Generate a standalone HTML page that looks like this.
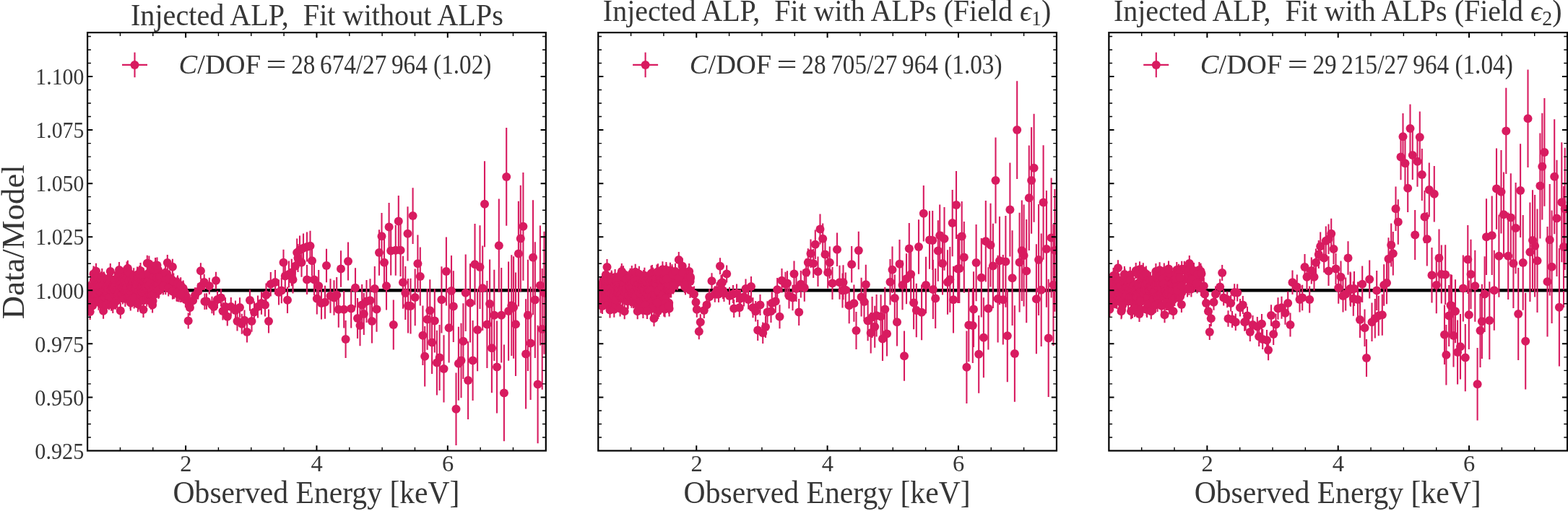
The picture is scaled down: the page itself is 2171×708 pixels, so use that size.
<!DOCTYPE html><html><head><meta charset="utf-8"><title>Data/Model</title><style>html,body{margin:0;padding:0;background:#fff;overflow:hidden}svg{display:block}</style></head><body>
<svg width="2171" height="708" viewBox="0 0 2171 708">
<rect width="2171" height="708" fill="#fff"/>
<defs>
<clipPath id="c0"><rect x="121.10" y="45.10" width="634.70" height="579.40"/></clipPath>
<clipPath id="c1"><rect x="828.25" y="45.10" width="634.70" height="579.40"/></clipPath>
<clipPath id="c2"><rect x="1535.35" y="45.10" width="634.70" height="579.40"/></clipPath>
</defs>
<g clip-path="url(#c0)">
<line x1="121.1" x2="755.8" y1="402.3" y2="402.3" stroke="#000" stroke-width="4.4"/>
<path d="M121.6 403.0V425.0M122.0 407.0V429.0M122.5 399.3V421.3M122.9 391.0V413.0M123.4 396.9V418.9M123.8 389.6V411.6M124.2 403.8V425.8M124.7 421.1V443.1M125.1 396.4V418.4M125.5 394.6V416.6M126.0 409.6V431.6M126.4 407.8V429.8M126.9 404.4V426.4M127.3 390.4V412.4M127.7 402.6V424.6M128.2 412.4V434.4M128.6 384.9V406.9M129.1 396.8V418.8M129.5 368.5V390.5M129.9 376.7V398.7M130.4 369.2V391.2M130.8 390.9V412.9M131.3 376.9V398.9M131.7 397.6V419.6M132.1 396.0V418.0M132.6 391.3V413.3M133.0 364.8V386.8M133.4 386.5V408.5M133.9 393.1V415.1M134.3 395.2V417.2M134.8 373.0V395.0M135.2 387.1V409.1M135.6 380.3V402.3M136.1 382.6V404.6M136.5 407.8V429.8M137.0 382.5V404.5M137.4 392.9V414.9M137.8 405.3V427.3M138.3 385.4V407.4M138.7 391.7V413.7M139.2 394.7V416.7M139.6 394.0V416.0M140.0 376.6V398.6M140.5 394.1V416.1M140.9 411.4V433.4M141.3 372.1V394.1M141.8 404.5V426.5M142.2 394.5V416.5M142.7 384.2V406.2M143.1 419.8V441.8M143.5 403.0V425.0M144.0 376.5V398.5M144.4 393.7V415.7M144.9 400.4V422.4M145.3 390.0V412.0M145.7 401.8V423.8M146.2 391.6V413.6M146.6 401.5V423.5M147.1 411.8V433.8M147.5 383.2V405.2M147.9 395.1V417.1M148.4 386.0V408.0M148.8 393.9V415.9M149.2 376.2V398.2M149.7 384.3V406.3M150.1 389.4V411.4M150.6 404.2V426.2M151.0 407.5V429.5M151.4 374.1V396.1M151.9 381.2V403.2M152.3 400.6V422.6M152.8 364.9V386.9M153.2 385.5V407.5M153.6 390.4V412.4M154.1 408.7V430.7M154.5 401.0V423.0M155.0 387.2V409.2M155.4 386.6V408.6M155.8 388.1V410.1M156.3 412.1V434.1M156.7 385.7V407.7M157.1 387.3V409.3M157.6 396.1V418.1M158.0 389.7V411.7M158.5 388.6V410.6M158.9 376.2V398.2M159.3 391.0V413.0M159.8 385.1V407.1M160.2 406.8V428.8M160.7 399.9V421.9M161.1 390.7V412.7M161.5 400.0V422.0M162.0 386.3V408.3M162.4 405.1V427.1M162.9 390.8V412.8M163.3 398.7V420.7M163.7 373.3V395.3M164.2 395.4V417.4M164.6 367.9V389.9M165.0 363.1V385.1M165.5 386.5V408.5M165.9 378.4V400.4M166.4 392.7V414.7M166.8 419.4V441.4M167.2 379.2V401.2M167.7 381.9V403.9M168.1 393.1V415.1M168.6 396.9V418.9M169.0 387.8V409.8M169.4 387.4V409.4M169.9 399.6V421.6M170.3 397.1V419.1M170.8 376.1V398.1M171.2 388.9V410.9M171.6 390.4V412.4M172.1 375.7V397.7M172.5 393.4V415.4M172.9 378.2V400.2M173.4 402.9V424.9M173.8 392.3V414.3M174.3 390.9V412.9M174.7 381.7V403.7M175.1 388.0V410.0M175.6 362.6V384.6M176.0 374.2V396.2M176.5 394.4V416.4M176.9 360.7V382.7M177.3 400.8V422.8M177.8 365.8V387.8M178.2 399.5V421.5M178.7 377.8V399.8M179.1 399.7V421.7M179.5 390.9V412.9M180.0 368.4V390.4M180.4 405.9V427.9M180.8 408.5V430.5M181.3 388.1V410.1M181.7 385.2V407.2M182.2 386.7V408.7M182.6 375.7V397.7M183.0 403.6V425.6M183.5 381.4V403.4M183.9 388.0V410.0M184.4 378.0V400.0M184.8 380.2V402.2M185.2 371.3V393.3M185.7 405.5V427.5M186.1 386.4V408.4M186.6 401.5V423.5M187.0 388.6V410.6M187.4 379.0V401.0M187.9 383.9V405.9M188.3 380.7V402.7M188.7 388.3V410.3M189.2 383.1V405.1M189.6 384.1V406.1M190.1 369.5V391.5M190.5 377.2V399.2M190.9 410.3V432.3M191.4 378.9V400.9M191.8 373.7V395.7M192.3 392.4V414.4M192.7 406.8V428.8M193.1 368.2V390.2M193.6 384.9V406.9M194.0 379.2V401.2M194.5 363.9V385.9M194.9 397.5V419.5M195.3 387.3V409.3M195.8 388.5V410.5M196.2 377.3V399.3M196.6 393.6V415.6M197.1 380.1V402.1M197.5 385.4V407.4M198.0 372.4V394.4M198.4 370.9V392.9M198.8 405.3V427.3M199.3 380.3V402.3M199.7 391.1V413.1M200.2 386.6V408.6M200.6 381.1V403.1M201.0 380.1V402.1M201.5 395.5V417.5M201.9 382.8V404.8M202.4 384.8V406.8M202.8 387.1V409.1M203.2 402.7V424.7M203.7 395.9V417.9M204.1 391.9V413.9M204.5 379.0V401.0M205.0 368.0V390.0M205.4 399.4V421.4M205.9 399.6V421.6M206.3 384.6V406.6M206.7 393.8V415.8M207.2 396.9V418.9M207.6 397.6V419.6M208.1 398.7V420.7M208.5 380.1V402.1M208.9 406.7V428.7M209.4 369.3V391.3M209.8 397.8V419.8M210.3 392.8V414.8M210.7 397.8V419.8M211.1 411.4V433.4M211.6 406.0V428.0M212.0 370.4V392.4M212.4 363.1V385.1M212.9 396.8V418.8M213.3 372.1V394.1M213.8 385.6V407.6M214.2 397.0V419.0M214.6 363.5V385.5M215.1 357.1V379.1M215.5 389.1V411.1M216.0 386.1V408.1M216.4 382.2V404.2M216.8 385.9V407.9M217.3 373.8V395.8M217.7 364.9V386.9M218.2 383.0V405.0M218.6 372.1V394.1M219.0 363.0V385.0M219.5 392.0V414.0M219.9 384.3V406.3M220.3 390.6V412.6M220.8 371.7V393.7M221.2 376.1V398.1M221.7 371.5V393.5M222.1 372.9V394.9M253.4 390.0V412.0M223.9 380.2V402.2M230.3 382.3V404.3M255.1 394.5V416.5M231.6 381.0V403.0M245.3 383.5V405.5M235.9 377.6V399.6M245.5 396.0V418.0M235.8 382.0V404.0M241.3 382.8V404.8M231.4 378.4V400.4M238.6 378.5V400.5M248.6 393.6V415.6M233.2 374.7V396.7M248.9 386.5V408.5M227.5 371.8V393.8M225.8 386.5V408.5M232.2 378.4V400.4M251.3 395.9V417.9M229.4 379.1V401.1M253.1 393.1V415.1M247.2 384.7V406.7M247.7 396.4V418.4M251.1 396.6V418.6M235.6 376.1V398.1M240.6 392.0V414.0M229.5 375.9V397.9M241.2 392.2V414.2M253.5 389.5V411.5M229.3 386.3V408.3M244.9 393.8V415.8M256.9 404.0V426.0M203.8 353.8V375.8M217.5 356.6V378.6M198.5 418.0V440.0M206.4 354.5V376.5M231.8 353.1V375.1M238.9 358.8V380.8M229.0 367.0V389.0M234.7 374.3V396.3M240.3 378.5V400.5M246.0 381.4V403.4M250.2 384.2V406.2M253.7 388.4V410.4M255.8 394.0V416.0M258.0 399.7V421.7M260.8 406.8V428.8M262.9 415.3V437.3M260.7 433.6V455.6M226.2 385.6V407.6M233.2 388.4V410.4M238.9 392.7V414.7M244.5 395.5V417.5M250.2 397.0V419.0M267.1 405.4V427.4M270.0 398.3V420.3M274.2 392.7V414.7M278.4 385.6V407.6M282.7 379.8V402.2M283.4 406.6V429.0M277.9 364.2V386.2M289.8 384.7V407.8M299.0 376.8V400.7M286.0 406.2V428.8M293.5 410.8V434.2M296.0 413.2V436.8M301.0 402.9V427.1M306.0 400.2V424.8M308.5 418.5V443.5M314.8 425.9V451.6M312.0 412.3V437.7M319.8 411.9V438.1M326.0 416.5V443.5M332.0 412.2V439.8M328.5 431.4V458.6M334.8 434.8V462.7M342.0 445.6V474.4M338.5 429.5V458.0M348.5 430.2V459.8M352.0 417.4V447.6M346.0 401.3V430.7M357.0 409.6V440.4M362.0 404.3V435.7M367.0 406.4V438.6M368.5 392.6V424.9M372.0 428.6V461.4M374.8 377.1V410.4M381.0 373.9V408.1M386.0 387.6V422.4M389.8 384.8V420.2M392.5 345.8V381.7M394.8 364.4V400.6M398.0 397.4V434.1M400.0 361.5V398.5M403.8 358.7V396.3M405.5 368.5V406.5M408.8 349.5V388.0M412.5 338.0V377.0M411.2 330.6V369.4M415.0 326.5V366.0M420.0 323.6V363.9M425.0 321.4V362.6M429.5 319.7V361.8M417.5 343.8V383.7M432.0 340.0V382.5M425.0 366.9V408.1M435.0 366.0V409.0M441.2 374.1V418.4M438.8 391.9V435.6M445.0 397.5V442.5M450.0 395.8V441.7M452.0 344.8V391.2M457.5 386.3V433.7M462.5 388.3V436.7M466.2 384.1V433.4M472.0 347.2V397.8M468.8 403.8V453.7M476.2 403.0V454.5M478.6 444.0V496.0M482.0 335.6V388.4M486.2 400.6V454.4M492.0 371.2V426.3M495.0 413.1V468.9M498.5 422.7V479.3M503.8 406.0V464.0M501.2 393.9V451.1M507.5 388.1V446.9M512.5 386.2V446.3M515.0 414.6V475.4M518.8 369.1V430.9M521.5 397.2V459.8M525.0 318.3V381.7M528.5 295.1V359.5M532.0 331.0V396.5M535.0 363.1V429.4M538.6 281.0V348.2M541.2 313.5V381.5M547.8 311.8V381.8M554.6 310.7V382.9M544.8 415.4V484.6M551.8 270.9V342.1M558.0 354.7V427.8M561.3 368.9V443.1M564.5 286.2V361.4M565.0 386.0V461.5M571.6 260.3V337.9M568.5 385.8V462.4M574.7 372.6V451.2M578.4 325.4V405.2M581.8 342.6V423.6M585.4 423.5V505.9M588.2 452.1V535.5M591.6 400.1V484.7M595.3 387.3V473.3M598.1 431.1V518.1M601.8 400.2V488.6M604.9 457.8V547.4M608.6 449.9V540.9M611.4 369.2V461.4M614.5 464.2V557.6M617.9 328.6V423.4M621.6 406.2V502.4M625.0 354.1V451.7M627.8 375.2V474.0M631.5 516.5V616.9M634.9 452.7V554.7M638.5 447.7V551.3M641.4 420.3V525.1M644.7 352.5V458.9M648.1 473.1V580.9M651.0 365.2V474.4M654.6 443.9V554.9M657.5 310.0V422.4M664.5 312.2V428.0M661.1 400.0V514.2M668.2 340.4V458.0M671.0 223.3V342.3M674.4 389.1V509.9M678.1 359.6V482.4M680.9 420.1V544.3M684.3 373.7V499.9M688.0 444.4V572.6M690.8 275.5V405.1M694.2 371.0V502.6M697.9 477.5V611.3M701.2 177.1V312.7M704.1 362.4V499.8M708.3 353.3V493.1M711.1 355.2V496.8M714.0 377.5V520.9M717.9 278.7V424.5M720.8 256.7V404.3M724.4 238.9V388.7M728.1 414.2V566.6M730.9 359.7V513.9M734.6 397.3V553.9M738.0 277.3V436.3M740.8 335.2V496.0M744.6 450.7V614.3M747.9 312.6V478.4M750.7 372.0V539.8M753.5 320.7V490.7" stroke="#D81B60" stroke-width="2.1" fill="none"/>
<g fill="#D81B60"><circle cx="121.6" cy="414.0" r="6"/><circle cx="122.0" cy="418.0" r="6"/><circle cx="122.5" cy="410.3" r="6"/><circle cx="122.9" cy="402.0" r="6"/><circle cx="123.4" cy="407.9" r="6"/><circle cx="123.8" cy="400.6" r="6"/><circle cx="124.2" cy="414.8" r="6"/><circle cx="124.7" cy="432.1" r="6"/><circle cx="125.1" cy="407.4" r="6"/><circle cx="125.5" cy="405.6" r="6"/><circle cx="126.0" cy="420.6" r="6"/><circle cx="126.4" cy="418.8" r="6"/><circle cx="126.9" cy="415.4" r="6"/><circle cx="127.3" cy="401.4" r="6"/><circle cx="127.7" cy="413.6" r="6"/><circle cx="128.2" cy="423.4" r="6"/><circle cx="128.6" cy="395.9" r="6"/><circle cx="129.1" cy="407.8" r="6"/><circle cx="129.5" cy="379.5" r="6"/><circle cx="129.9" cy="387.7" r="6"/><circle cx="130.4" cy="380.2" r="6"/><circle cx="130.8" cy="401.9" r="6"/><circle cx="131.3" cy="387.9" r="6"/><circle cx="131.7" cy="408.6" r="6"/><circle cx="132.1" cy="407.0" r="6"/><circle cx="132.6" cy="402.3" r="6"/><circle cx="133.0" cy="375.8" r="6"/><circle cx="133.4" cy="397.5" r="6"/><circle cx="133.9" cy="404.1" r="6"/><circle cx="134.3" cy="406.2" r="6"/><circle cx="134.8" cy="384.0" r="6"/><circle cx="135.2" cy="398.1" r="6"/><circle cx="135.6" cy="391.3" r="6"/><circle cx="136.1" cy="393.6" r="6"/><circle cx="136.5" cy="418.8" r="6"/><circle cx="137.0" cy="393.5" r="6"/><circle cx="137.4" cy="403.9" r="6"/><circle cx="137.8" cy="416.3" r="6"/><circle cx="138.3" cy="396.4" r="6"/><circle cx="138.7" cy="402.7" r="6"/><circle cx="139.2" cy="405.7" r="6"/><circle cx="139.6" cy="405.0" r="6"/><circle cx="140.0" cy="387.6" r="6"/><circle cx="140.5" cy="405.1" r="6"/><circle cx="140.9" cy="422.4" r="6"/><circle cx="141.3" cy="383.1" r="6"/><circle cx="141.8" cy="415.5" r="6"/><circle cx="142.2" cy="405.5" r="6"/><circle cx="142.7" cy="395.2" r="6"/><circle cx="143.1" cy="430.8" r="6"/><circle cx="143.5" cy="414.0" r="6"/><circle cx="144.0" cy="387.5" r="6"/><circle cx="144.4" cy="404.7" r="6"/><circle cx="144.9" cy="411.4" r="6"/><circle cx="145.3" cy="401.0" r="6"/><circle cx="145.7" cy="412.8" r="6"/><circle cx="146.2" cy="402.6" r="6"/><circle cx="146.6" cy="412.5" r="6"/><circle cx="147.1" cy="422.8" r="6"/><circle cx="147.5" cy="394.2" r="6"/><circle cx="147.9" cy="406.1" r="6"/><circle cx="148.4" cy="397.0" r="6"/><circle cx="148.8" cy="404.9" r="6"/><circle cx="149.2" cy="387.2" r="6"/><circle cx="149.7" cy="395.3" r="6"/><circle cx="150.1" cy="400.4" r="6"/><circle cx="150.6" cy="415.2" r="6"/><circle cx="151.0" cy="418.5" r="6"/><circle cx="151.4" cy="385.1" r="6"/><circle cx="151.9" cy="392.2" r="6"/><circle cx="152.3" cy="411.6" r="6"/><circle cx="152.8" cy="375.9" r="6"/><circle cx="153.2" cy="396.5" r="6"/><circle cx="153.6" cy="401.4" r="6"/><circle cx="154.1" cy="419.7" r="6"/><circle cx="154.5" cy="412.0" r="6"/><circle cx="155.0" cy="398.2" r="6"/><circle cx="155.4" cy="397.6" r="6"/><circle cx="155.8" cy="399.1" r="6"/><circle cx="156.3" cy="423.1" r="6"/><circle cx="156.7" cy="396.7" r="6"/><circle cx="157.1" cy="398.3" r="6"/><circle cx="157.6" cy="407.1" r="6"/><circle cx="158.0" cy="400.7" r="6"/><circle cx="158.5" cy="399.6" r="6"/><circle cx="158.9" cy="387.2" r="6"/><circle cx="159.3" cy="402.0" r="6"/><circle cx="159.8" cy="396.1" r="6"/><circle cx="160.2" cy="417.8" r="6"/><circle cx="160.7" cy="410.9" r="6"/><circle cx="161.1" cy="401.7" r="6"/><circle cx="161.5" cy="411.0" r="6"/><circle cx="162.0" cy="397.3" r="6"/><circle cx="162.4" cy="416.1" r="6"/><circle cx="162.9" cy="401.8" r="6"/><circle cx="163.3" cy="409.7" r="6"/><circle cx="163.7" cy="384.3" r="6"/><circle cx="164.2" cy="406.4" r="6"/><circle cx="164.6" cy="378.9" r="6"/><circle cx="165.0" cy="374.1" r="6"/><circle cx="165.5" cy="397.5" r="6"/><circle cx="165.9" cy="389.4" r="6"/><circle cx="166.4" cy="403.7" r="6"/><circle cx="166.8" cy="430.4" r="6"/><circle cx="167.2" cy="390.2" r="6"/><circle cx="167.7" cy="392.9" r="6"/><circle cx="168.1" cy="404.1" r="6"/><circle cx="168.6" cy="407.9" r="6"/><circle cx="169.0" cy="398.8" r="6"/><circle cx="169.4" cy="398.4" r="6"/><circle cx="169.9" cy="410.6" r="6"/><circle cx="170.3" cy="408.1" r="6"/><circle cx="170.8" cy="387.1" r="6"/><circle cx="171.2" cy="399.9" r="6"/><circle cx="171.6" cy="401.4" r="6"/><circle cx="172.1" cy="386.7" r="6"/><circle cx="172.5" cy="404.4" r="6"/><circle cx="172.9" cy="389.2" r="6"/><circle cx="173.4" cy="413.9" r="6"/><circle cx="173.8" cy="403.3" r="6"/><circle cx="174.3" cy="401.9" r="6"/><circle cx="174.7" cy="392.7" r="6"/><circle cx="175.1" cy="399.0" r="6"/><circle cx="175.6" cy="373.6" r="6"/><circle cx="176.0" cy="385.2" r="6"/><circle cx="176.5" cy="405.4" r="6"/><circle cx="176.9" cy="371.7" r="6"/><circle cx="177.3" cy="411.8" r="6"/><circle cx="177.8" cy="376.8" r="6"/><circle cx="178.2" cy="410.5" r="6"/><circle cx="178.7" cy="388.8" r="6"/><circle cx="179.1" cy="410.7" r="6"/><circle cx="179.5" cy="401.9" r="6"/><circle cx="180.0" cy="379.4" r="6"/><circle cx="180.4" cy="416.9" r="6"/><circle cx="180.8" cy="419.5" r="6"/><circle cx="181.3" cy="399.1" r="6"/><circle cx="181.7" cy="396.2" r="6"/><circle cx="182.2" cy="397.7" r="6"/><circle cx="182.6" cy="386.7" r="6"/><circle cx="183.0" cy="414.6" r="6"/><circle cx="183.5" cy="392.4" r="6"/><circle cx="183.9" cy="399.0" r="6"/><circle cx="184.4" cy="389.0" r="6"/><circle cx="184.8" cy="391.2" r="6"/><circle cx="185.2" cy="382.3" r="6"/><circle cx="185.7" cy="416.5" r="6"/><circle cx="186.1" cy="397.4" r="6"/><circle cx="186.6" cy="412.5" r="6"/><circle cx="187.0" cy="399.6" r="6"/><circle cx="187.4" cy="390.0" r="6"/><circle cx="187.9" cy="394.9" r="6"/><circle cx="188.3" cy="391.7" r="6"/><circle cx="188.7" cy="399.3" r="6"/><circle cx="189.2" cy="394.1" r="6"/><circle cx="189.6" cy="395.1" r="6"/><circle cx="190.1" cy="380.5" r="6"/><circle cx="190.5" cy="388.2" r="6"/><circle cx="190.9" cy="421.3" r="6"/><circle cx="191.4" cy="389.9" r="6"/><circle cx="191.8" cy="384.7" r="6"/><circle cx="192.3" cy="403.4" r="6"/><circle cx="192.7" cy="417.8" r="6"/><circle cx="193.1" cy="379.2" r="6"/><circle cx="193.6" cy="395.9" r="6"/><circle cx="194.0" cy="390.2" r="6"/><circle cx="194.5" cy="374.9" r="6"/><circle cx="194.9" cy="408.5" r="6"/><circle cx="195.3" cy="398.3" r="6"/><circle cx="195.8" cy="399.5" r="6"/><circle cx="196.2" cy="388.3" r="6"/><circle cx="196.6" cy="404.6" r="6"/><circle cx="197.1" cy="391.1" r="6"/><circle cx="197.5" cy="396.4" r="6"/><circle cx="198.0" cy="383.4" r="6"/><circle cx="198.4" cy="381.9" r="6"/><circle cx="198.8" cy="416.3" r="6"/><circle cx="199.3" cy="391.3" r="6"/><circle cx="199.7" cy="402.1" r="6"/><circle cx="200.2" cy="397.6" r="6"/><circle cx="200.6" cy="392.1" r="6"/><circle cx="201.0" cy="391.1" r="6"/><circle cx="201.5" cy="406.5" r="6"/><circle cx="201.9" cy="393.8" r="6"/><circle cx="202.4" cy="395.8" r="6"/><circle cx="202.8" cy="398.1" r="6"/><circle cx="203.2" cy="413.7" r="6"/><circle cx="203.7" cy="406.9" r="6"/><circle cx="204.1" cy="402.9" r="6"/><circle cx="204.5" cy="390.0" r="6"/><circle cx="205.0" cy="379.0" r="6"/><circle cx="205.4" cy="410.4" r="6"/><circle cx="205.9" cy="410.6" r="6"/><circle cx="206.3" cy="395.6" r="6"/><circle cx="206.7" cy="404.8" r="6"/><circle cx="207.2" cy="407.9" r="6"/><circle cx="207.6" cy="408.6" r="6"/><circle cx="208.1" cy="409.7" r="6"/><circle cx="208.5" cy="391.1" r="6"/><circle cx="208.9" cy="417.7" r="6"/><circle cx="209.4" cy="380.3" r="6"/><circle cx="209.8" cy="408.8" r="6"/><circle cx="210.3" cy="403.8" r="6"/><circle cx="210.7" cy="408.8" r="6"/><circle cx="211.1" cy="422.4" r="6"/><circle cx="211.6" cy="417.0" r="6"/><circle cx="212.0" cy="381.4" r="6"/><circle cx="212.4" cy="374.1" r="6"/><circle cx="212.9" cy="407.8" r="6"/><circle cx="213.3" cy="383.1" r="6"/><circle cx="213.8" cy="396.6" r="6"/><circle cx="214.2" cy="408.0" r="6"/><circle cx="214.6" cy="374.5" r="6"/><circle cx="215.1" cy="368.1" r="6"/><circle cx="215.5" cy="400.1" r="6"/><circle cx="216.0" cy="397.1" r="6"/><circle cx="216.4" cy="393.2" r="6"/><circle cx="216.8" cy="396.9" r="6"/><circle cx="217.3" cy="384.8" r="6"/><circle cx="217.7" cy="375.9" r="6"/><circle cx="218.2" cy="394.0" r="6"/><circle cx="218.6" cy="383.1" r="6"/><circle cx="219.0" cy="374.0" r="6"/><circle cx="219.5" cy="403.0" r="6"/><circle cx="219.9" cy="395.3" r="6"/><circle cx="220.3" cy="401.6" r="6"/><circle cx="220.8" cy="382.7" r="6"/><circle cx="221.2" cy="387.1" r="6"/><circle cx="221.7" cy="382.5" r="6"/><circle cx="222.1" cy="383.9" r="6"/><circle cx="253.4" cy="401.0" r="6"/><circle cx="223.9" cy="391.2" r="6"/><circle cx="230.3" cy="393.3" r="6"/><circle cx="255.1" cy="405.5" r="6"/><circle cx="231.6" cy="392.0" r="6"/><circle cx="245.3" cy="394.5" r="6"/><circle cx="235.9" cy="388.6" r="6"/><circle cx="245.5" cy="407.0" r="6"/><circle cx="235.8" cy="393.0" r="6"/><circle cx="241.3" cy="393.8" r="6"/><circle cx="231.4" cy="389.4" r="6"/><circle cx="238.6" cy="389.5" r="6"/><circle cx="248.6" cy="404.6" r="6"/><circle cx="233.2" cy="385.7" r="6"/><circle cx="248.9" cy="397.5" r="6"/><circle cx="227.5" cy="382.8" r="6"/><circle cx="225.8" cy="397.5" r="6"/><circle cx="232.2" cy="389.4" r="6"/><circle cx="251.3" cy="406.9" r="6"/><circle cx="229.4" cy="390.1" r="6"/><circle cx="253.1" cy="404.1" r="6"/><circle cx="247.2" cy="395.7" r="6"/><circle cx="247.7" cy="407.4" r="6"/><circle cx="251.1" cy="407.6" r="6"/><circle cx="235.6" cy="387.1" r="6"/><circle cx="240.6" cy="403.0" r="6"/><circle cx="229.5" cy="386.9" r="6"/><circle cx="241.2" cy="403.2" r="6"/><circle cx="253.5" cy="400.5" r="6"/><circle cx="229.3" cy="397.3" r="6"/><circle cx="244.9" cy="404.8" r="6"/><circle cx="256.9" cy="415.0" r="6"/><circle cx="203.8" cy="364.8" r="6"/><circle cx="217.5" cy="367.6" r="6"/><circle cx="198.5" cy="429.0" r="6"/><circle cx="206.4" cy="365.5" r="6"/><circle cx="231.8" cy="364.1" r="6"/><circle cx="238.9" cy="369.8" r="6"/><circle cx="229.0" cy="378.0" r="6"/><circle cx="234.7" cy="385.3" r="6"/><circle cx="240.3" cy="389.5" r="6"/><circle cx="246.0" cy="392.4" r="6"/><circle cx="250.2" cy="395.2" r="6"/><circle cx="253.7" cy="399.4" r="6"/><circle cx="255.8" cy="405.0" r="6"/><circle cx="258.0" cy="410.7" r="6"/><circle cx="260.8" cy="417.8" r="6"/><circle cx="262.9" cy="426.3" r="6"/><circle cx="260.7" cy="444.6" r="6"/><circle cx="226.2" cy="396.6" r="6"/><circle cx="233.2" cy="399.4" r="6"/><circle cx="238.9" cy="403.7" r="6"/><circle cx="244.5" cy="406.5" r="6"/><circle cx="250.2" cy="408.0" r="6"/><circle cx="267.1" cy="416.4" r="6"/><circle cx="270.0" cy="409.3" r="6"/><circle cx="274.2" cy="403.7" r="6"/><circle cx="278.4" cy="396.6" r="6"/><circle cx="282.7" cy="391.0" r="6"/><circle cx="283.4" cy="417.8" r="6"/><circle cx="277.9" cy="375.2" r="6"/><circle cx="289.8" cy="396.2" r="6"/><circle cx="299.0" cy="388.8" r="6"/><circle cx="286.0" cy="417.5" r="6"/><circle cx="293.5" cy="422.5" r="6"/><circle cx="296.0" cy="425.0" r="6"/><circle cx="301.0" cy="415.0" r="6"/><circle cx="306.0" cy="412.5" r="6"/><circle cx="308.5" cy="431.0" r="6"/><circle cx="314.8" cy="438.8" r="6"/><circle cx="312.0" cy="425.0" r="6"/><circle cx="319.8" cy="425.0" r="6"/><circle cx="326.0" cy="430.0" r="6"/><circle cx="332.0" cy="426.0" r="6"/><circle cx="328.5" cy="445.0" r="6"/><circle cx="334.8" cy="448.8" r="6"/><circle cx="342.0" cy="460.0" r="6"/><circle cx="338.5" cy="443.8" r="6"/><circle cx="348.5" cy="445.0" r="6"/><circle cx="352.0" cy="432.5" r="6"/><circle cx="346.0" cy="416.0" r="6"/><circle cx="357.0" cy="425.0" r="6"/><circle cx="362.0" cy="420.0" r="6"/><circle cx="367.0" cy="422.5" r="6"/><circle cx="368.5" cy="408.8" r="6"/><circle cx="372.0" cy="445.0" r="6"/><circle cx="374.8" cy="393.8" r="6"/><circle cx="381.0" cy="391.0" r="6"/><circle cx="386.0" cy="405.0" r="6"/><circle cx="389.8" cy="402.5" r="6"/><circle cx="392.5" cy="363.8" r="6"/><circle cx="394.8" cy="382.5" r="6"/><circle cx="398.0" cy="415.8" r="6"/><circle cx="400.0" cy="380.0" r="6"/><circle cx="403.8" cy="377.5" r="6"/><circle cx="405.5" cy="387.5" r="6"/><circle cx="408.8" cy="368.8" r="6"/><circle cx="412.5" cy="357.5" r="6"/><circle cx="411.2" cy="350.0" r="6"/><circle cx="415.0" cy="346.2" r="6"/><circle cx="420.0" cy="343.8" r="6"/><circle cx="425.0" cy="342.0" r="6"/><circle cx="429.5" cy="340.8" r="6"/><circle cx="417.5" cy="363.8" r="6"/><circle cx="432.0" cy="361.2" r="6"/><circle cx="425.0" cy="387.5" r="6"/><circle cx="435.0" cy="387.5" r="6"/><circle cx="441.2" cy="396.2" r="6"/><circle cx="438.8" cy="413.8" r="6"/><circle cx="445.0" cy="420.0" r="6"/><circle cx="450.0" cy="418.8" r="6"/><circle cx="452.0" cy="368.0" r="6"/><circle cx="457.5" cy="410.0" r="6"/><circle cx="462.5" cy="412.5" r="6"/><circle cx="466.2" cy="408.8" r="6"/><circle cx="472.0" cy="372.5" r="6"/><circle cx="468.8" cy="428.8" r="6"/><circle cx="476.2" cy="428.8" r="6"/><circle cx="478.6" cy="470.0" r="6"/><circle cx="482.0" cy="362.0" r="6"/><circle cx="486.2" cy="427.5" r="6"/><circle cx="492.0" cy="398.8" r="6"/><circle cx="495.0" cy="441.0" r="6"/><circle cx="498.5" cy="451.0" r="6"/><circle cx="503.8" cy="435.0" r="6"/><circle cx="501.2" cy="422.5" r="6"/><circle cx="507.5" cy="417.5" r="6"/><circle cx="512.5" cy="416.2" r="6"/><circle cx="515.0" cy="445.0" r="6"/><circle cx="518.8" cy="400.0" r="6"/><circle cx="521.5" cy="428.5" r="6"/><circle cx="525.0" cy="350.0" r="6"/><circle cx="528.5" cy="327.3" r="6"/><circle cx="532.0" cy="363.8" r="6"/><circle cx="535.0" cy="396.2" r="6"/><circle cx="538.6" cy="314.6" r="6"/><circle cx="541.2" cy="347.5" r="6"/><circle cx="547.8" cy="346.8" r="6"/><circle cx="554.6" cy="346.8" r="6"/><circle cx="544.8" cy="450.0" r="6"/><circle cx="551.8" cy="306.5" r="6"/><circle cx="558.0" cy="391.2" r="6"/><circle cx="561.3" cy="406.0" r="6"/><circle cx="564.5" cy="323.8" r="6"/><circle cx="565.0" cy="423.8" r="6"/><circle cx="571.6" cy="299.1" r="6"/><circle cx="568.5" cy="424.1" r="6"/><circle cx="574.7" cy="411.9" r="6"/><circle cx="578.4" cy="365.3" r="6"/><circle cx="581.8" cy="383.1" r="6"/><circle cx="585.4" cy="464.7" r="6"/><circle cx="588.2" cy="493.8" r="6"/><circle cx="591.6" cy="442.4" r="6"/><circle cx="595.3" cy="430.3" r="6"/><circle cx="598.1" cy="474.6" r="6"/><circle cx="601.8" cy="444.4" r="6"/><circle cx="604.9" cy="502.6" r="6"/><circle cx="608.6" cy="495.4" r="6"/><circle cx="611.4" cy="415.3" r="6"/><circle cx="614.5" cy="510.9" r="6"/><circle cx="617.9" cy="376.0" r="6"/><circle cx="621.6" cy="454.3" r="6"/><circle cx="625.0" cy="402.9" r="6"/><circle cx="627.8" cy="424.6" r="6"/><circle cx="631.5" cy="566.7" r="6"/><circle cx="634.9" cy="503.7" r="6"/><circle cx="638.5" cy="499.5" r="6"/><circle cx="641.4" cy="472.7" r="6"/><circle cx="644.7" cy="405.7" r="6"/><circle cx="648.1" cy="527.0" r="6"/><circle cx="651.0" cy="419.8" r="6"/><circle cx="654.6" cy="499.4" r="6"/><circle cx="657.5" cy="366.2" r="6"/><circle cx="664.5" cy="370.1" r="6"/><circle cx="661.1" cy="457.1" r="6"/><circle cx="668.2" cy="399.2" r="6"/><circle cx="671.0" cy="282.8" r="6"/><circle cx="674.4" cy="449.5" r="6"/><circle cx="678.1" cy="421.0" r="6"/><circle cx="680.9" cy="482.2" r="6"/><circle cx="684.3" cy="436.8" r="6"/><circle cx="688.0" cy="508.5" r="6"/><circle cx="690.8" cy="340.3" r="6"/><circle cx="694.2" cy="436.8" r="6"/><circle cx="697.9" cy="544.4" r="6"/><circle cx="701.2" cy="244.9" r="6"/><circle cx="704.1" cy="431.1" r="6"/><circle cx="708.3" cy="423.2" r="6"/><circle cx="711.1" cy="426.0" r="6"/><circle cx="714.0" cy="449.2" r="6"/><circle cx="717.9" cy="351.6" r="6"/><circle cx="720.8" cy="330.5" r="6"/><circle cx="724.4" cy="313.8" r="6"/><circle cx="728.1" cy="490.4" r="6"/><circle cx="730.9" cy="436.8" r="6"/><circle cx="734.6" cy="475.6" r="6"/><circle cx="738.0" cy="356.8" r="6"/><circle cx="740.8" cy="415.6" r="6"/><circle cx="744.6" cy="532.5" r="6"/><circle cx="747.9" cy="395.5" r="6"/><circle cx="750.7" cy="455.9" r="6"/><circle cx="753.5" cy="405.7" r="6"/></g>
</g>
<rect x="121.10" y="45.10" width="634.70" height="579.40" fill="none" stroke="#000" stroke-width="2.2"/>
<path d="M257.11 624.5v-7.2M257.11 45.1v7.2M438.45 624.5v-7.2M438.45 45.1v7.2M619.79 624.5v-7.2M619.79 45.1v7.2M121.1 550.43h7.2M755.8 550.43h-7.2M121.1 476.36h7.2M755.8 476.36h-7.2M121.1 402.29h7.2M755.8 402.29h-7.2M121.1 328.22h7.2M755.8 328.22h-7.2M121.1 254.15h7.2M755.8 254.15h-7.2M121.1 180.08h7.2M755.8 180.08h-7.2M121.1 106.01h7.2M755.8 106.01h-7.2" stroke="#000" stroke-width="2" fill="none"/>
<path d="M166.44 624.5v-4.8M166.44 45.1v4.8M211.77 624.5v-4.8M211.77 45.1v4.8M302.44 624.5v-4.8M302.44 45.1v4.8M347.78 624.5v-4.8M347.78 45.1v4.8M393.11 624.5v-4.8M393.11 45.1v4.8M483.79 624.5v-4.8M483.79 45.1v4.8M529.12 624.5v-4.8M529.12 45.1v4.8M574.46 624.5v-4.8M574.46 45.1v4.8M665.13 624.5v-4.8M665.13 45.1v4.8M710.46 624.5v-4.8M710.46 45.1v4.8M121.1 605.98h4.8M755.8 605.98h-4.8M121.1 587.47h4.8M755.8 587.47h-4.8M121.1 568.95h4.8M755.8 568.95h-4.8M121.1 531.91h4.8M755.8 531.91h-4.8M121.1 513.39h4.8M755.8 513.39h-4.8M121.1 494.88h4.8M755.8 494.88h-4.8M121.1 457.84h4.8M755.8 457.84h-4.8M121.1 439.33h4.8M755.8 439.33h-4.8M121.1 420.81h4.8M755.8 420.81h-4.8M121.1 383.77h4.8M755.8 383.77h-4.8M121.1 365.25h4.8M755.8 365.25h-4.8M121.1 346.74h4.8M755.8 346.74h-4.8M121.1 309.70h4.8M755.8 309.70h-4.8M121.1 291.19h4.8M755.8 291.19h-4.8M121.1 272.67h4.8M755.8 272.67h-4.8M121.1 235.63h4.8M755.8 235.63h-4.8M121.1 217.12h4.8M755.8 217.12h-4.8M121.1 198.60h4.8M755.8 198.60h-4.8M121.1 161.56h4.8M755.8 161.56h-4.8M121.1 143.05h4.8M755.8 143.05h-4.8M121.1 124.53h4.8M755.8 124.53h-4.8M121.1 87.49h4.8M755.8 87.49h-4.8M121.1 68.98h4.8M755.8 68.98h-4.8M121.1 50.46h4.8M755.8 50.46h-4.8" stroke="#000" stroke-width="1.4" fill="none"/>
<g clip-path="url(#c1)">
<line x1="828.2" x2="1463.0" y1="402.3" y2="402.3" stroke="#000" stroke-width="4.4"/>
<path d="M828.8 403.7V425.7M829.2 400.3V422.3M829.6 392.8V414.8M830.1 394.2V416.2M830.5 387.9V409.9M830.9 388.6V410.6M831.4 392.0V414.0M831.8 411.7V433.7M832.3 398.8V420.8M832.7 390.5V412.5M833.1 383.5V405.5M833.6 382.7V404.7M834.0 412.9V434.9M834.5 398.1V420.1M834.9 392.2V414.2M835.3 386.6V408.6M835.8 376.3V398.3M836.2 390.4V412.4M836.6 403.1V425.1M837.1 386.0V408.0M837.5 388.2V410.2M838.0 388.3V410.3M838.4 392.8V414.8M838.8 369.8V391.8M839.3 388.1V410.1M839.7 379.8V401.8M840.2 403.2V425.2M840.6 380.9V402.9M841.0 399.1V421.1M841.5 411.9V433.9M841.9 387.1V409.1M842.4 383.2V405.2M842.8 393.9V415.9M843.2 391.3V413.3M843.7 377.9V399.9M844.1 397.5V419.5M844.5 418.5V440.5M845.0 387.8V409.8M845.4 388.6V410.6M845.9 377.2V399.2M846.3 395.6V417.6M846.7 374.5V396.5M847.2 376.4V398.4M847.6 408.6V430.6M848.1 379.1V401.1M848.5 405.9V427.9M848.9 411.9V433.9M849.4 394.8V416.8M849.8 398.8V420.8M850.3 417.7V439.7M850.7 388.6V410.6M851.1 383.3V405.3M851.6 373.0V395.0M852.0 391.9V413.9M852.4 411.3V433.3M852.9 404.3V426.3M853.3 378.6V400.6M853.8 379.8V401.8M854.2 384.5V406.5M854.6 395.2V417.2M855.1 388.5V410.5M855.5 394.2V416.2M856.0 395.3V417.3M856.4 387.3V409.3M856.8 390.8V412.8M857.3 394.1V416.1M857.7 390.2V412.2M858.2 398.1V420.1M858.6 416.6V438.6M859.0 399.3V421.3M859.5 392.1V414.1M859.9 368.5V390.5M860.3 396.5V418.5M860.8 365.0V387.0M861.2 372.3V394.3M861.7 402.8V424.8M862.1 400.8V422.8M862.5 389.3V411.3M863.0 368.2V390.2M863.4 386.3V408.3M863.9 382.1V404.1M864.3 399.9V421.9M864.7 420.3V442.3M865.2 394.2V416.2M865.6 380.8V402.8M866.1 375.5V397.5M866.5 390.5V412.5M866.9 388.9V410.9M867.4 375.8V397.8M867.8 392.9V414.9M868.2 375.8V397.8M868.7 406.3V428.3M869.1 405.6V427.6M869.6 405.9V427.9M870.0 384.9V406.9M870.4 398.2V420.2M870.9 389.5V411.5M871.3 386.1V408.1M871.8 386.7V408.7M872.2 373.8V395.8M872.6 371.8V393.8M873.1 402.0V424.0M873.5 388.7V410.7M874.0 394.2V416.2M874.4 404.8V426.8M874.8 367.9V389.9M875.3 380.7V402.7M875.7 393.7V415.7M876.1 396.6V418.6M876.6 386.2V408.2M877.0 405.2V427.2M877.5 394.1V416.1M877.9 374.9V396.9M878.3 378.7V400.7M878.8 402.2V424.2M879.2 397.6V419.6M879.7 365.7V387.7M880.1 409.5V431.5M880.5 399.4V421.4M881.0 409.4V431.4M881.4 386.1V408.1M881.9 387.3V409.3M882.3 376.1V398.1M882.7 420.3V442.3M883.2 388.9V410.9M883.6 412.7V434.7M884.0 382.6V404.6M884.5 393.5V415.5M884.9 368.7V390.7M885.4 386.1V408.1M885.8 404.6V426.6M886.2 374.4V396.4M886.7 405.8V427.8M887.1 395.9V417.9M887.6 377.2V399.2M888.0 384.5V406.5M888.4 385.1V407.1M888.9 390.6V412.6M889.3 384.1V406.1M889.8 380.1V402.1M890.2 387.2V409.2M890.6 377.4V399.4M891.1 373.9V395.9M891.5 390.6V412.6M891.9 403.2V425.2M892.4 370.7V392.7M892.8 391.3V413.3M893.3 382.5V404.5M893.7 378.1V400.1M894.1 402.8V424.8M894.6 384.3V406.3M895.0 411.5V433.5M895.5 380.8V402.8M895.9 396.5V418.5M896.3 388.2V410.2M896.8 381.1V403.1M897.2 399.2V421.2M897.7 389.2V411.2M898.1 399.4V421.4M898.5 390.7V412.7M899.0 376.6V398.6M899.4 389.9V411.9M899.8 392.0V414.0M900.3 404.2V426.2M900.7 379.1V401.1M901.2 390.8V412.8M901.6 368.1V390.1M902.0 400.1V422.1M902.5 376.7V398.7M902.9 366.9V388.9M903.4 390.5V412.5M903.8 406.2V428.2M904.2 370.7V392.7M904.7 376.6V398.6M905.1 381.3V403.3M905.6 376.1V398.1M906.0 396.4V418.4M906.4 380.4V402.4M906.9 381.6V403.6M907.3 399.2V421.2M907.7 381.1V403.1M908.2 397.1V419.1M908.6 378.2V400.2M909.1 374.9V396.9M909.5 366.5V388.5M909.9 416.4V438.4M910.4 387.0V409.0M910.8 394.6V416.6M911.3 390.9V412.9M911.7 393.5V415.5M912.1 392.0V414.0M912.6 417.1V439.1M913.0 377.3V399.3M913.5 370.3V392.3M913.9 377.6V399.6M914.3 373.3V395.3M914.8 401.4V423.4M915.2 402.4V424.4M915.6 378.3V400.3M916.1 372.5V394.5M916.5 386.5V408.5M917.0 410.1V432.1M917.4 362.3V384.3M917.8 398.4V420.4M918.3 376.8V398.8M918.7 405.3V427.3M919.2 376.7V398.7M919.6 387.4V409.4M920.0 371.0V393.0M920.5 378.1V400.1M920.9 410.0V432.0M921.4 402.4V424.4M921.8 385.9V407.9M922.2 379.6V401.6M922.7 365.7V387.7M923.1 386.0V408.0M923.5 390.9V412.9M924.0 390.2V412.2M924.4 390.0V412.0M924.9 376.2V398.2M925.3 390.4V412.4M925.7 390.8V412.8M926.2 408.7V430.7M926.6 416.5V438.5M927.1 389.5V411.5M927.5 381.0V403.0M927.9 390.4V412.4M928.4 383.1V405.1M928.8 381.3V403.3M929.2 390.5V412.5M946.8 381.8V403.8M926.2 379.0V401.0M948.9 371.2V393.2M954.5 375.1V397.1M943.6 378.9V400.9M948.3 366.1V388.1M930.5 366.3V388.3M938.9 374.6V396.6M937.1 377.7V399.7M926.1 375.7V397.7M927.5 374.0V396.0M955.9 374.8V396.8M927.9 377.7V399.7M938.3 378.9V400.9M937.7 380.4V402.4M931.0 373.5V395.5M927.9 363.7V385.7M935.9 378.9V400.9M950.7 380.1V402.1M954.5 374.9V396.9M945.3 380.4V402.4M945.1 364.9V386.9M949.0 386.4V408.4M955.6 378.9V400.9M925.4 384.5V406.5M922.4 363.0V385.0M954.2 365.1V387.1M943.3 371.9V393.9M945.7 374.0V396.0M955.5 391.0V413.0M933.3 376.2V398.2M921.9 366.9V388.9M946.2 380.4V402.4M951.9 377.9V399.9M933.4 370.8V392.8M926.0 382.8V404.8M932.2 385.6V407.6M954.7 374.5V396.5M953.6 369.0V391.0M952.0 381.6V403.6M890.4 419.0V441.0M899.6 410.0V432.0M920.6 417.6V439.6M898.3 411.7V433.7M925.9 411.8V433.8M916.9 409.8V431.8M921.2 409.6V431.6M909.9 408.5V430.5M911.2 419.9V441.9M893.5 411.8V433.8M919.3 416.5V438.5M902.1 416.8V438.8M840.5 359.0V381.0M911.0 365.2V387.2M905.5 430.2V452.2M896.0 420.0V442.0M939.8 349.0V371.0M944.8 357.8V379.8M923.5 375.2V397.2M926.0 412.8V434.8M931.0 369.0V391.0M935.0 365.0V387.0M940.0 374.0V396.0M945.0 367.0V389.0M950.0 379.0V401.0M953.0 372.8V394.8M948.0 384.0V406.0M956.0 372.8V394.8M961.0 396.5V418.5M963.5 407.8V429.8M964.8 417.8V439.8M969.8 435.2V457.2M967.8 448.2V470.2M974.8 419.0V441.0M978.5 411.5V433.5M982.2 400.2V422.2M985.5 378.2V400.2M989.8 396.3V418.7M997.0 357.2V380.3M998.5 380.9V404.1M1001.0 390.8V414.2M1006.2 367.5V391.5M1000.0 379.6V402.9M992.5 391.2V413.8M995.0 396.1V418.9M1002.5 394.5V418.0M1010.0 397.8V422.2M1015.0 395.1V419.9M1020.0 393.5V419.0M1016.2 415.0V440.0M1023.8 413.3V439.2M1025.0 400.8V426.7M1030.0 398.0V424.5M1032.5 386.6V413.4M1040.0 383.1V410.9M1036.2 401.4V428.6M1042.5 412.2V440.3M1046.2 417.0V445.5M1052.5 407.9V437.1M1049.2 443.1V471.9M1056.2 446.4V476.1M1060.0 437.9V468.1M1062.5 417.2V447.8M1067.5 415.6V446.9M1068.8 404.3V435.7M1073.8 401.5V433.5M1076.2 385.0V417.5M1079.5 422.3V455.2M1082.5 372.1V405.4M1087.5 376.7V410.8M1090.0 375.3V409.7M1092.5 392.6V427.4M1097.5 394.7V430.3M1099.5 361.6V397.4M1102.5 381.9V418.1M1106.2 414.1V450.9M1108.8 375.1V412.4M1113.8 379.7V417.8M1116.2 358.2V396.8M1118.8 344.3V383.2M1122.5 331.5V371.0M1126.2 344.9V385.1M1128.8 318.4V359.1M1132.5 355.6V396.9M1135.5 296.6V338.4M1139.2 309.5V352.0M1142.5 330.9V374.1M1146.2 355.6V399.4M1148.8 341.6V385.9M1152.5 370.0V415.0M1159.0 322.6V368.9M1162.5 367.7V414.8M1166.5 378.6V426.4M1167.5 367.2V415.3M1170.8 377.4V426.2M1179.2 341.0V391.5M1188.8 320.7V373.3M1175.7 398.4V448.2M1182.4 394.6V445.8M1192.6 384.8V438.4M1196.5 390.8V445.2M1198.8 366.8V421.7M1185.5 432.1V484.1M1201.6 416.6V472.2M1207.6 411.1V468.1M1213.6 407.9V466.5M1219.6 408.3V468.5M1205.7 432.9V489.5M1211.2 423.8V481.8M1222.0 439.2V500.0M1228.0 431.2V493.6M1225.3 397.7V459.3M1232.5 359.0V422.5M1235.5 341.6V405.9M1238.8 380.4V445.8M1242.0 413.2V479.4M1245.5 332.1V399.4M1249.5 360.8V429.2M1255.0 351.2V421.3M1261.2 344.0V416.0M1258.8 308.9V380.1M1252.0 458.6V527.8M1265.1 383.0V456.2M1272.0 304.3V379.7M1268.8 392.8V467.2M1276.1 394.4V471.2M1278.8 257.0V334.5M1282.0 355.7V434.3M1287.0 292.3V372.7M1291.2 292.1V373.9M1291.9 359.9V442.1M1295.2 371.9V455.1M1298.8 305.2V389.8M1301.2 283.6V369.0M1307.5 286.9V374.7M1305.0 321.6V408.4M1312.0 346.2V435.8M1315.3 341.9V432.7M1318.7 263.0V355.2M1320.0 368.9V461.5M1324.0 236.9V331.1M1326.2 324.9V420.1M1408.2 112.3V247.9M1378.5 190.4V309.6M1431.6 157.7V307.7M1428.1 176.2V323.8M1424.8 201.4V347.0M1444.6 201.2V359.8M1331.7 278.9V376.3M1334.8 307.0V405.8M1328.3 324.0V420.0M1348.0 376.3V480.9M1351.6 311.0V417.2M1358.8 330.0V439.6M1364.8 278.1V390.5M1371.5 281.7V397.5M1368.4 370.3V484.5M1374.9 309.7V427.1M1381.6 353.7V474.5M1388.8 353.0V477.6M1384.0 300.1V422.3M1392.4 299.1V425.7M1398.4 225.4V355.4M1401.6 319.3V451.1M1411.6 294.8V432.4M1414.8 277.6V417.0M1417.6 283.4V424.6M1421.2 303.9V447.3M1434.9 338.2V490.2M1438.1 282.9V437.1M1441.7 323.5V480.1M1448.9 264.1V425.7M1455.6 246.4V412.6M1458.5 310.6V479.0M1460.4 261.9V431.7M1341.3 399.6V501.2M1346.8 399.1V503.1M1338.4 458.6V559.0M1355.2 436.9V544.7M1361.9 412.2V523.2M1394.8 401.3V529.3M1404.9 423.2V556.8M1451.7 386.7V550.1" stroke="#D81B60" stroke-width="2.1" fill="none"/>
<g fill="#D81B60"><circle cx="828.8" cy="414.7" r="6"/><circle cx="829.2" cy="411.3" r="6"/><circle cx="829.6" cy="403.8" r="6"/><circle cx="830.1" cy="405.2" r="6"/><circle cx="830.5" cy="398.9" r="6"/><circle cx="830.9" cy="399.6" r="6"/><circle cx="831.4" cy="403.0" r="6"/><circle cx="831.8" cy="422.7" r="6"/><circle cx="832.3" cy="409.8" r="6"/><circle cx="832.7" cy="401.5" r="6"/><circle cx="833.1" cy="394.5" r="6"/><circle cx="833.6" cy="393.7" r="6"/><circle cx="834.0" cy="423.9" r="6"/><circle cx="834.5" cy="409.1" r="6"/><circle cx="834.9" cy="403.2" r="6"/><circle cx="835.3" cy="397.6" r="6"/><circle cx="835.8" cy="387.3" r="6"/><circle cx="836.2" cy="401.4" r="6"/><circle cx="836.6" cy="414.1" r="6"/><circle cx="837.1" cy="397.0" r="6"/><circle cx="837.5" cy="399.2" r="6"/><circle cx="838.0" cy="399.3" r="6"/><circle cx="838.4" cy="403.8" r="6"/><circle cx="838.8" cy="380.8" r="6"/><circle cx="839.3" cy="399.1" r="6"/><circle cx="839.7" cy="390.8" r="6"/><circle cx="840.2" cy="414.2" r="6"/><circle cx="840.6" cy="391.9" r="6"/><circle cx="841.0" cy="410.1" r="6"/><circle cx="841.5" cy="422.9" r="6"/><circle cx="841.9" cy="398.1" r="6"/><circle cx="842.4" cy="394.2" r="6"/><circle cx="842.8" cy="404.9" r="6"/><circle cx="843.2" cy="402.3" r="6"/><circle cx="843.7" cy="388.9" r="6"/><circle cx="844.1" cy="408.5" r="6"/><circle cx="844.5" cy="429.5" r="6"/><circle cx="845.0" cy="398.8" r="6"/><circle cx="845.4" cy="399.6" r="6"/><circle cx="845.9" cy="388.2" r="6"/><circle cx="846.3" cy="406.6" r="6"/><circle cx="846.7" cy="385.5" r="6"/><circle cx="847.2" cy="387.4" r="6"/><circle cx="847.6" cy="419.6" r="6"/><circle cx="848.1" cy="390.1" r="6"/><circle cx="848.5" cy="416.9" r="6"/><circle cx="848.9" cy="422.9" r="6"/><circle cx="849.4" cy="405.8" r="6"/><circle cx="849.8" cy="409.8" r="6"/><circle cx="850.3" cy="428.7" r="6"/><circle cx="850.7" cy="399.6" r="6"/><circle cx="851.1" cy="394.3" r="6"/><circle cx="851.6" cy="384.0" r="6"/><circle cx="852.0" cy="402.9" r="6"/><circle cx="852.4" cy="422.3" r="6"/><circle cx="852.9" cy="415.3" r="6"/><circle cx="853.3" cy="389.6" r="6"/><circle cx="853.8" cy="390.8" r="6"/><circle cx="854.2" cy="395.5" r="6"/><circle cx="854.6" cy="406.2" r="6"/><circle cx="855.1" cy="399.5" r="6"/><circle cx="855.5" cy="405.2" r="6"/><circle cx="856.0" cy="406.3" r="6"/><circle cx="856.4" cy="398.3" r="6"/><circle cx="856.8" cy="401.8" r="6"/><circle cx="857.3" cy="405.1" r="6"/><circle cx="857.7" cy="401.2" r="6"/><circle cx="858.2" cy="409.1" r="6"/><circle cx="858.6" cy="427.6" r="6"/><circle cx="859.0" cy="410.3" r="6"/><circle cx="859.5" cy="403.1" r="6"/><circle cx="859.9" cy="379.5" r="6"/><circle cx="860.3" cy="407.5" r="6"/><circle cx="860.8" cy="376.0" r="6"/><circle cx="861.2" cy="383.3" r="6"/><circle cx="861.7" cy="413.8" r="6"/><circle cx="862.1" cy="411.8" r="6"/><circle cx="862.5" cy="400.3" r="6"/><circle cx="863.0" cy="379.2" r="6"/><circle cx="863.4" cy="397.3" r="6"/><circle cx="863.9" cy="393.1" r="6"/><circle cx="864.3" cy="410.9" r="6"/><circle cx="864.7" cy="431.3" r="6"/><circle cx="865.2" cy="405.2" r="6"/><circle cx="865.6" cy="391.8" r="6"/><circle cx="866.1" cy="386.5" r="6"/><circle cx="866.5" cy="401.5" r="6"/><circle cx="866.9" cy="399.9" r="6"/><circle cx="867.4" cy="386.8" r="6"/><circle cx="867.8" cy="403.9" r="6"/><circle cx="868.2" cy="386.8" r="6"/><circle cx="868.7" cy="417.3" r="6"/><circle cx="869.1" cy="416.6" r="6"/><circle cx="869.6" cy="416.9" r="6"/><circle cx="870.0" cy="395.9" r="6"/><circle cx="870.4" cy="409.2" r="6"/><circle cx="870.9" cy="400.5" r="6"/><circle cx="871.3" cy="397.1" r="6"/><circle cx="871.8" cy="397.7" r="6"/><circle cx="872.2" cy="384.8" r="6"/><circle cx="872.6" cy="382.8" r="6"/><circle cx="873.1" cy="413.0" r="6"/><circle cx="873.5" cy="399.7" r="6"/><circle cx="874.0" cy="405.2" r="6"/><circle cx="874.4" cy="415.8" r="6"/><circle cx="874.8" cy="378.9" r="6"/><circle cx="875.3" cy="391.7" r="6"/><circle cx="875.7" cy="404.7" r="6"/><circle cx="876.1" cy="407.6" r="6"/><circle cx="876.6" cy="397.2" r="6"/><circle cx="877.0" cy="416.2" r="6"/><circle cx="877.5" cy="405.1" r="6"/><circle cx="877.9" cy="385.9" r="6"/><circle cx="878.3" cy="389.7" r="6"/><circle cx="878.8" cy="413.2" r="6"/><circle cx="879.2" cy="408.6" r="6"/><circle cx="879.7" cy="376.7" r="6"/><circle cx="880.1" cy="420.5" r="6"/><circle cx="880.5" cy="410.4" r="6"/><circle cx="881.0" cy="420.4" r="6"/><circle cx="881.4" cy="397.1" r="6"/><circle cx="881.9" cy="398.3" r="6"/><circle cx="882.3" cy="387.1" r="6"/><circle cx="882.7" cy="431.3" r="6"/><circle cx="883.2" cy="399.9" r="6"/><circle cx="883.6" cy="423.7" r="6"/><circle cx="884.0" cy="393.6" r="6"/><circle cx="884.5" cy="404.5" r="6"/><circle cx="884.9" cy="379.7" r="6"/><circle cx="885.4" cy="397.1" r="6"/><circle cx="885.8" cy="415.6" r="6"/><circle cx="886.2" cy="385.4" r="6"/><circle cx="886.7" cy="416.8" r="6"/><circle cx="887.1" cy="406.9" r="6"/><circle cx="887.6" cy="388.2" r="6"/><circle cx="888.0" cy="395.5" r="6"/><circle cx="888.4" cy="396.1" r="6"/><circle cx="888.9" cy="401.6" r="6"/><circle cx="889.3" cy="395.1" r="6"/><circle cx="889.8" cy="391.1" r="6"/><circle cx="890.2" cy="398.2" r="6"/><circle cx="890.6" cy="388.4" r="6"/><circle cx="891.1" cy="384.9" r="6"/><circle cx="891.5" cy="401.6" r="6"/><circle cx="891.9" cy="414.2" r="6"/><circle cx="892.4" cy="381.7" r="6"/><circle cx="892.8" cy="402.3" r="6"/><circle cx="893.3" cy="393.5" r="6"/><circle cx="893.7" cy="389.1" r="6"/><circle cx="894.1" cy="413.8" r="6"/><circle cx="894.6" cy="395.3" r="6"/><circle cx="895.0" cy="422.5" r="6"/><circle cx="895.5" cy="391.8" r="6"/><circle cx="895.9" cy="407.5" r="6"/><circle cx="896.3" cy="399.2" r="6"/><circle cx="896.8" cy="392.1" r="6"/><circle cx="897.2" cy="410.2" r="6"/><circle cx="897.7" cy="400.2" r="6"/><circle cx="898.1" cy="410.4" r="6"/><circle cx="898.5" cy="401.7" r="6"/><circle cx="899.0" cy="387.6" r="6"/><circle cx="899.4" cy="400.9" r="6"/><circle cx="899.8" cy="403.0" r="6"/><circle cx="900.3" cy="415.2" r="6"/><circle cx="900.7" cy="390.1" r="6"/><circle cx="901.2" cy="401.8" r="6"/><circle cx="901.6" cy="379.1" r="6"/><circle cx="902.0" cy="411.1" r="6"/><circle cx="902.5" cy="387.7" r="6"/><circle cx="902.9" cy="377.9" r="6"/><circle cx="903.4" cy="401.5" r="6"/><circle cx="903.8" cy="417.2" r="6"/><circle cx="904.2" cy="381.7" r="6"/><circle cx="904.7" cy="387.6" r="6"/><circle cx="905.1" cy="392.3" r="6"/><circle cx="905.6" cy="387.1" r="6"/><circle cx="906.0" cy="407.4" r="6"/><circle cx="906.4" cy="391.4" r="6"/><circle cx="906.9" cy="392.6" r="6"/><circle cx="907.3" cy="410.2" r="6"/><circle cx="907.7" cy="392.1" r="6"/><circle cx="908.2" cy="408.1" r="6"/><circle cx="908.6" cy="389.2" r="6"/><circle cx="909.1" cy="385.9" r="6"/><circle cx="909.5" cy="377.5" r="6"/><circle cx="909.9" cy="427.4" r="6"/><circle cx="910.4" cy="398.0" r="6"/><circle cx="910.8" cy="405.6" r="6"/><circle cx="911.3" cy="401.9" r="6"/><circle cx="911.7" cy="404.5" r="6"/><circle cx="912.1" cy="403.0" r="6"/><circle cx="912.6" cy="428.1" r="6"/><circle cx="913.0" cy="388.3" r="6"/><circle cx="913.5" cy="381.3" r="6"/><circle cx="913.9" cy="388.6" r="6"/><circle cx="914.3" cy="384.3" r="6"/><circle cx="914.8" cy="412.4" r="6"/><circle cx="915.2" cy="413.4" r="6"/><circle cx="915.6" cy="389.3" r="6"/><circle cx="916.1" cy="383.5" r="6"/><circle cx="916.5" cy="397.5" r="6"/><circle cx="917.0" cy="421.1" r="6"/><circle cx="917.4" cy="373.3" r="6"/><circle cx="917.8" cy="409.4" r="6"/><circle cx="918.3" cy="387.8" r="6"/><circle cx="918.7" cy="416.3" r="6"/><circle cx="919.2" cy="387.7" r="6"/><circle cx="919.6" cy="398.4" r="6"/><circle cx="920.0" cy="382.0" r="6"/><circle cx="920.5" cy="389.1" r="6"/><circle cx="920.9" cy="421.0" r="6"/><circle cx="921.4" cy="413.4" r="6"/><circle cx="921.8" cy="396.9" r="6"/><circle cx="922.2" cy="390.6" r="6"/><circle cx="922.7" cy="376.7" r="6"/><circle cx="923.1" cy="397.0" r="6"/><circle cx="923.5" cy="401.9" r="6"/><circle cx="924.0" cy="401.2" r="6"/><circle cx="924.4" cy="401.0" r="6"/><circle cx="924.9" cy="387.2" r="6"/><circle cx="925.3" cy="401.4" r="6"/><circle cx="925.7" cy="401.8" r="6"/><circle cx="926.2" cy="419.7" r="6"/><circle cx="926.6" cy="427.5" r="6"/><circle cx="927.1" cy="400.5" r="6"/><circle cx="927.5" cy="392.0" r="6"/><circle cx="927.9" cy="401.4" r="6"/><circle cx="928.4" cy="394.1" r="6"/><circle cx="928.8" cy="392.3" r="6"/><circle cx="929.2" cy="401.5" r="6"/><circle cx="946.8" cy="392.8" r="6"/><circle cx="926.2" cy="390.0" r="6"/><circle cx="948.9" cy="382.2" r="6"/><circle cx="954.5" cy="386.1" r="6"/><circle cx="943.6" cy="389.9" r="6"/><circle cx="948.3" cy="377.1" r="6"/><circle cx="930.5" cy="377.3" r="6"/><circle cx="938.9" cy="385.6" r="6"/><circle cx="937.1" cy="388.7" r="6"/><circle cx="926.1" cy="386.7" r="6"/><circle cx="927.5" cy="385.0" r="6"/><circle cx="955.9" cy="385.8" r="6"/><circle cx="927.9" cy="388.7" r="6"/><circle cx="938.3" cy="389.9" r="6"/><circle cx="937.7" cy="391.4" r="6"/><circle cx="931.0" cy="384.5" r="6"/><circle cx="927.9" cy="374.7" r="6"/><circle cx="935.9" cy="389.9" r="6"/><circle cx="950.7" cy="391.1" r="6"/><circle cx="954.5" cy="385.9" r="6"/><circle cx="945.3" cy="391.4" r="6"/><circle cx="945.1" cy="375.9" r="6"/><circle cx="949.0" cy="397.4" r="6"/><circle cx="955.6" cy="389.9" r="6"/><circle cx="925.4" cy="395.5" r="6"/><circle cx="922.4" cy="374.0" r="6"/><circle cx="954.2" cy="376.1" r="6"/><circle cx="943.3" cy="382.9" r="6"/><circle cx="945.7" cy="385.0" r="6"/><circle cx="955.5" cy="402.0" r="6"/><circle cx="933.3" cy="387.2" r="6"/><circle cx="921.9" cy="377.9" r="6"/><circle cx="946.2" cy="391.4" r="6"/><circle cx="951.9" cy="388.9" r="6"/><circle cx="933.4" cy="381.8" r="6"/><circle cx="926.0" cy="393.8" r="6"/><circle cx="932.2" cy="396.6" r="6"/><circle cx="954.7" cy="385.5" r="6"/><circle cx="953.6" cy="380.0" r="6"/><circle cx="952.0" cy="392.6" r="6"/><circle cx="890.4" cy="430.0" r="6"/><circle cx="899.6" cy="421.0" r="6"/><circle cx="920.6" cy="428.6" r="6"/><circle cx="898.3" cy="422.7" r="6"/><circle cx="925.9" cy="422.8" r="6"/><circle cx="916.9" cy="420.8" r="6"/><circle cx="921.2" cy="420.6" r="6"/><circle cx="909.9" cy="419.5" r="6"/><circle cx="911.2" cy="430.9" r="6"/><circle cx="893.5" cy="422.8" r="6"/><circle cx="919.3" cy="427.5" r="6"/><circle cx="902.1" cy="427.8" r="6"/><circle cx="840.5" cy="370.0" r="6"/><circle cx="911.0" cy="376.2" r="6"/><circle cx="905.5" cy="441.2" r="6"/><circle cx="896.0" cy="431.0" r="6"/><circle cx="939.8" cy="360.0" r="6"/><circle cx="944.8" cy="368.8" r="6"/><circle cx="923.5" cy="386.2" r="6"/><circle cx="926.0" cy="423.8" r="6"/><circle cx="931.0" cy="380.0" r="6"/><circle cx="935.0" cy="376.0" r="6"/><circle cx="940.0" cy="385.0" r="6"/><circle cx="945.0" cy="378.0" r="6"/><circle cx="950.0" cy="390.0" r="6"/><circle cx="953.0" cy="383.8" r="6"/><circle cx="948.0" cy="395.0" r="6"/><circle cx="956.0" cy="383.8" r="6"/><circle cx="961.0" cy="407.5" r="6"/><circle cx="963.5" cy="418.8" r="6"/><circle cx="964.8" cy="428.8" r="6"/><circle cx="969.8" cy="446.2" r="6"/><circle cx="967.8" cy="459.2" r="6"/><circle cx="974.8" cy="430.0" r="6"/><circle cx="978.5" cy="422.5" r="6"/><circle cx="982.2" cy="411.2" r="6"/><circle cx="985.5" cy="389.2" r="6"/><circle cx="989.8" cy="407.5" r="6"/><circle cx="997.0" cy="368.8" r="6"/><circle cx="998.5" cy="392.5" r="6"/><circle cx="1001.0" cy="402.5" r="6"/><circle cx="1006.2" cy="379.5" r="6"/><circle cx="1000.0" cy="391.2" r="6"/><circle cx="992.5" cy="402.5" r="6"/><circle cx="995.0" cy="407.5" r="6"/><circle cx="1002.5" cy="406.2" r="6"/><circle cx="1010.0" cy="410.0" r="6"/><circle cx="1015.0" cy="407.5" r="6"/><circle cx="1020.0" cy="406.2" r="6"/><circle cx="1016.2" cy="427.5" r="6"/><circle cx="1023.8" cy="426.2" r="6"/><circle cx="1025.0" cy="413.8" r="6"/><circle cx="1030.0" cy="411.2" r="6"/><circle cx="1032.5" cy="400.0" r="6"/><circle cx="1040.0" cy="397.0" r="6"/><circle cx="1036.2" cy="415.0" r="6"/><circle cx="1042.5" cy="426.2" r="6"/><circle cx="1046.2" cy="431.2" r="6"/><circle cx="1052.5" cy="422.5" r="6"/><circle cx="1049.2" cy="457.5" r="6"/><circle cx="1056.2" cy="461.2" r="6"/><circle cx="1060.0" cy="453.0" r="6"/><circle cx="1062.5" cy="432.5" r="6"/><circle cx="1067.5" cy="431.2" r="6"/><circle cx="1068.8" cy="420.0" r="6"/><circle cx="1073.8" cy="417.5" r="6"/><circle cx="1076.2" cy="401.2" r="6"/><circle cx="1079.5" cy="438.8" r="6"/><circle cx="1082.5" cy="388.8" r="6"/><circle cx="1087.5" cy="393.8" r="6"/><circle cx="1090.0" cy="392.5" r="6"/><circle cx="1092.5" cy="410.0" r="6"/><circle cx="1097.5" cy="412.5" r="6"/><circle cx="1099.5" cy="379.5" r="6"/><circle cx="1102.5" cy="400.0" r="6"/><circle cx="1106.2" cy="432.5" r="6"/><circle cx="1108.8" cy="393.8" r="6"/><circle cx="1113.8" cy="398.8" r="6"/><circle cx="1116.2" cy="377.5" r="6"/><circle cx="1118.8" cy="363.8" r="6"/><circle cx="1122.5" cy="351.2" r="6"/><circle cx="1126.2" cy="365.0" r="6"/><circle cx="1128.8" cy="338.8" r="6"/><circle cx="1132.5" cy="376.2" r="6"/><circle cx="1135.5" cy="317.5" r="6"/><circle cx="1139.2" cy="330.8" r="6"/><circle cx="1142.5" cy="352.5" r="6"/><circle cx="1146.2" cy="377.5" r="6"/><circle cx="1148.8" cy="363.8" r="6"/><circle cx="1152.5" cy="392.5" r="6"/><circle cx="1159.0" cy="345.8" r="6"/><circle cx="1162.5" cy="391.2" r="6"/><circle cx="1166.5" cy="402.5" r="6"/><circle cx="1167.5" cy="391.2" r="6"/><circle cx="1170.8" cy="401.8" r="6"/><circle cx="1179.2" cy="366.2" r="6"/><circle cx="1188.8" cy="347.0" r="6"/><circle cx="1175.7" cy="423.3" r="6"/><circle cx="1182.4" cy="420.2" r="6"/><circle cx="1192.6" cy="411.6" r="6"/><circle cx="1196.5" cy="418.0" r="6"/><circle cx="1198.8" cy="394.2" r="6"/><circle cx="1185.5" cy="458.1" r="6"/><circle cx="1201.6" cy="444.4" r="6"/><circle cx="1207.6" cy="439.6" r="6"/><circle cx="1213.6" cy="437.2" r="6"/><circle cx="1219.6" cy="438.4" r="6"/><circle cx="1205.7" cy="461.2" r="6"/><circle cx="1211.2" cy="452.8" r="6"/><circle cx="1222.0" cy="469.6" r="6"/><circle cx="1228.0" cy="462.4" r="6"/><circle cx="1225.3" cy="428.5" r="6"/><circle cx="1232.5" cy="390.8" r="6"/><circle cx="1235.5" cy="373.8" r="6"/><circle cx="1238.8" cy="413.1" r="6"/><circle cx="1242.0" cy="446.3" r="6"/><circle cx="1245.5" cy="365.8" r="6"/><circle cx="1249.5" cy="395.0" r="6"/><circle cx="1255.0" cy="386.2" r="6"/><circle cx="1261.2" cy="380.0" r="6"/><circle cx="1258.8" cy="344.5" r="6"/><circle cx="1252.0" cy="493.2" r="6"/><circle cx="1265.1" cy="419.6" r="6"/><circle cx="1272.0" cy="342.0" r="6"/><circle cx="1268.8" cy="430.0" r="6"/><circle cx="1276.1" cy="432.8" r="6"/><circle cx="1278.8" cy="295.8" r="6"/><circle cx="1282.0" cy="395.0" r="6"/><circle cx="1287.0" cy="332.5" r="6"/><circle cx="1291.2" cy="333.0" r="6"/><circle cx="1291.9" cy="401.0" r="6"/><circle cx="1295.2" cy="413.5" r="6"/><circle cx="1298.8" cy="347.5" r="6"/><circle cx="1301.2" cy="326.3" r="6"/><circle cx="1307.5" cy="330.8" r="6"/><circle cx="1305.0" cy="365.0" r="6"/><circle cx="1312.0" cy="391.0" r="6"/><circle cx="1315.3" cy="387.3" r="6"/><circle cx="1318.7" cy="309.1" r="6"/><circle cx="1320.0" cy="415.2" r="6"/><circle cx="1324.0" cy="284.0" r="6"/><circle cx="1326.2" cy="372.5" r="6"/><circle cx="1408.2" cy="180.1" r="6"/><circle cx="1378.5" cy="250.0" r="6"/><circle cx="1431.6" cy="232.7" r="6"/><circle cx="1428.1" cy="250.0" r="6"/><circle cx="1424.8" cy="274.2" r="6"/><circle cx="1444.6" cy="280.5" r="6"/><circle cx="1331.7" cy="327.6" r="6"/><circle cx="1334.8" cy="356.4" r="6"/><circle cx="1328.3" cy="372.0" r="6"/><circle cx="1348.0" cy="428.6" r="6"/><circle cx="1351.6" cy="364.1" r="6"/><circle cx="1358.8" cy="384.8" r="6"/><circle cx="1364.8" cy="334.3" r="6"/><circle cx="1371.5" cy="339.6" r="6"/><circle cx="1368.4" cy="427.4" r="6"/><circle cx="1374.9" cy="368.4" r="6"/><circle cx="1381.6" cy="414.1" r="6"/><circle cx="1388.8" cy="415.3" r="6"/><circle cx="1384.0" cy="361.2" r="6"/><circle cx="1392.4" cy="362.4" r="6"/><circle cx="1398.4" cy="290.4" r="6"/><circle cx="1401.6" cy="385.2" r="6"/><circle cx="1411.6" cy="363.6" r="6"/><circle cx="1414.8" cy="347.3" r="6"/><circle cx="1417.6" cy="354.0" r="6"/><circle cx="1421.2" cy="375.6" r="6"/><circle cx="1434.9" cy="414.2" r="6"/><circle cx="1438.1" cy="360.0" r="6"/><circle cx="1441.7" cy="401.8" r="6"/><circle cx="1448.9" cy="344.9" r="6"/><circle cx="1455.6" cy="329.5" r="6"/><circle cx="1458.5" cy="394.8" r="6"/><circle cx="1460.4" cy="346.8" r="6"/><circle cx="1341.3" cy="450.4" r="6"/><circle cx="1346.8" cy="451.1" r="6"/><circle cx="1338.4" cy="508.8" r="6"/><circle cx="1355.2" cy="490.8" r="6"/><circle cx="1361.9" cy="467.7" r="6"/><circle cx="1394.8" cy="465.3" r="6"/><circle cx="1404.9" cy="490.0" r="6"/><circle cx="1451.7" cy="468.4" r="6"/></g>
</g>
<rect x="828.25" y="45.10" width="634.70" height="579.40" fill="none" stroke="#000" stroke-width="2.2"/>
<path d="M964.26 624.5v-7.2M964.26 45.1v7.2M1145.60 624.5v-7.2M1145.60 45.1v7.2M1326.94 624.5v-7.2M1326.94 45.1v7.2M828.2 550.43h7.2M1463.0 550.43h-7.2M828.2 476.36h7.2M1463.0 476.36h-7.2M828.2 402.29h7.2M1463.0 402.29h-7.2M828.2 328.22h7.2M1463.0 328.22h-7.2M828.2 254.15h7.2M1463.0 254.15h-7.2M828.2 180.08h7.2M1463.0 180.08h-7.2M828.2 106.01h7.2M1463.0 106.01h-7.2" stroke="#000" stroke-width="2" fill="none"/>
<path d="M873.59 624.5v-4.8M873.59 45.1v4.8M918.92 624.5v-4.8M918.92 45.1v4.8M1009.59 624.5v-4.8M1009.59 45.1v4.8M1054.93 624.5v-4.8M1054.93 45.1v4.8M1100.26 624.5v-4.8M1100.26 45.1v4.8M1190.94 624.5v-4.8M1190.94 45.1v4.8M1236.27 624.5v-4.8M1236.27 45.1v4.8M1281.61 624.5v-4.8M1281.61 45.1v4.8M1372.28 624.5v-4.8M1372.28 45.1v4.8M1417.61 624.5v-4.8M1417.61 45.1v4.8M828.2 605.98h4.8M1463.0 605.98h-4.8M828.2 587.47h4.8M1463.0 587.47h-4.8M828.2 568.95h4.8M1463.0 568.95h-4.8M828.2 531.91h4.8M1463.0 531.91h-4.8M828.2 513.39h4.8M1463.0 513.39h-4.8M828.2 494.88h4.8M1463.0 494.88h-4.8M828.2 457.84h4.8M1463.0 457.84h-4.8M828.2 439.33h4.8M1463.0 439.33h-4.8M828.2 420.81h4.8M1463.0 420.81h-4.8M828.2 383.77h4.8M1463.0 383.77h-4.8M828.2 365.25h4.8M1463.0 365.25h-4.8M828.2 346.74h4.8M1463.0 346.74h-4.8M828.2 309.70h4.8M1463.0 309.70h-4.8M828.2 291.19h4.8M1463.0 291.19h-4.8M828.2 272.67h4.8M1463.0 272.67h-4.8M828.2 235.63h4.8M1463.0 235.63h-4.8M828.2 217.12h4.8M1463.0 217.12h-4.8M828.2 198.60h4.8M1463.0 198.60h-4.8M828.2 161.56h4.8M1463.0 161.56h-4.8M828.2 143.05h4.8M1463.0 143.05h-4.8M828.2 124.53h4.8M1463.0 124.53h-4.8M828.2 87.49h4.8M1463.0 87.49h-4.8M828.2 68.98h4.8M1463.0 68.98h-4.8M828.2 50.46h4.8M1463.0 50.46h-4.8" stroke="#000" stroke-width="1.4" fill="none"/>
<g clip-path="url(#c2)">
<line x1="1535.3" x2="2170.1" y1="402.3" y2="402.3" stroke="#000" stroke-width="4.4"/>
<path d="M1535.8 403.5V425.5M1536.3 417.7V439.7M1536.7 389.1V411.1M1537.2 390.6V412.6M1537.6 394.0V416.0M1538.0 409.4V431.4M1538.5 390.9V412.9M1538.9 411.1V433.1M1539.4 378.3V400.3M1539.8 388.8V410.8M1540.2 388.6V410.6M1540.7 401.9V423.9M1541.1 405.4V427.4M1541.6 370.9V392.9M1542.0 378.9V400.9M1542.4 395.8V417.8M1542.9 382.4V404.4M1543.3 370.7V392.7M1543.7 405.3V427.3M1544.2 398.0V420.0M1544.6 398.0V420.0M1545.1 384.9V406.9M1545.5 405.2V427.2M1545.9 388.1V410.1M1546.4 406.1V428.1M1546.8 379.0V401.0M1547.3 379.8V401.8M1547.7 394.1V416.1M1548.1 381.8V403.8M1548.6 400.4V422.4M1549.0 394.8V416.8M1549.5 378.8V400.8M1549.9 392.3V414.3M1550.3 386.6V408.6M1550.8 403.7V425.7M1551.2 382.8V404.8M1551.6 385.4V407.4M1552.1 407.7V429.7M1552.5 420.3V442.3M1553.0 418.3V440.3M1553.4 392.2V414.2M1553.8 394.3V416.3M1554.3 412.0V434.0M1554.7 389.6V411.6M1555.2 378.1V400.1M1555.6 392.9V414.9M1556.0 397.4V419.4M1556.5 380.1V402.1M1556.9 369.1V391.1M1557.4 371.9V393.9M1557.8 400.3V422.3M1558.2 381.1V403.1M1558.7 389.4V411.4M1559.1 394.2V416.2M1559.5 399.7V421.7M1560.0 386.8V408.8M1560.4 398.0V420.0M1560.9 379.3V401.3M1561.3 386.4V408.4M1561.7 377.5V399.5M1562.2 406.6V428.6M1562.6 390.9V412.9M1563.1 381.3V403.3M1563.5 386.5V408.5M1563.9 388.3V410.3M1564.4 400.8V422.8M1564.8 369.8V391.8M1565.3 377.3V399.3M1565.7 386.2V408.2M1566.1 420.3V442.3M1566.6 404.2V426.2M1567.0 389.8V411.8M1567.4 400.9V422.9M1567.9 419.1V441.1M1568.3 388.1V410.1M1568.8 386.4V408.4M1569.2 407.7V429.7M1569.6 398.0V420.0M1570.1 400.4V422.4M1570.5 384.4V406.4M1571.0 417.3V439.3M1571.4 414.4V436.4M1571.8 398.9V420.9M1572.3 400.5V422.5M1572.7 363.9V385.9M1573.2 399.9V421.9M1573.6 388.7V410.7M1574.0 397.2V419.2M1574.5 400.5V422.5M1574.9 386.7V408.7M1575.3 368.5V390.5M1575.8 396.3V418.3M1576.2 381.3V403.3M1576.7 386.8V408.8M1577.1 383.1V405.1M1577.5 386.7V408.7M1578.0 362.3V384.3M1578.4 407.7V429.7M1578.9 394.7V416.7M1579.3 406.3V428.3M1579.7 418.0V440.0M1580.2 391.6V413.6M1580.6 367.0V389.0M1581.1 379.2V401.2M1581.5 375.0V397.0M1581.9 384.5V406.5M1582.4 392.4V414.4M1582.8 364.3V386.3M1583.2 395.9V417.9M1583.7 370.9V392.9M1584.1 395.3V417.3M1584.6 389.8V411.8M1585.0 387.1V409.1M1585.4 390.3V412.3M1585.9 384.0V406.0M1586.3 383.0V405.0M1586.8 368.6V390.6M1587.2 390.9V412.9M1587.6 416.2V438.2M1588.1 418.0V440.0M1588.5 409.1V431.1M1589.0 400.8V422.8M1589.4 382.2V404.2M1589.8 410.8V432.8M1590.3 390.5V412.5M1590.7 390.4V412.4M1591.1 387.4V409.4M1591.6 392.5V414.5M1592.0 385.4V407.4M1592.5 390.2V412.2M1592.9 376.7V398.7M1593.3 386.3V408.3M1593.8 420.3V442.3M1594.2 390.4V412.4M1594.7 388.1V410.1M1595.1 398.5V420.5M1595.5 400.9V422.9M1596.0 376.3V398.3M1596.4 388.5V410.5M1596.9 403.7V425.7M1597.3 394.9V416.9M1597.7 392.9V414.9M1598.2 412.3V434.3M1598.6 382.2V404.2M1599.0 392.4V414.4M1599.5 384.3V406.3M1599.9 411.4V433.4M1600.4 364.9V386.9M1600.8 382.3V404.3M1601.2 384.2V406.2M1601.7 400.3V422.3M1602.1 399.5V421.5M1602.6 410.1V432.1M1603.0 370.1V392.1M1603.4 401.4V423.4M1603.9 387.3V409.3M1604.3 382.3V404.3M1604.8 398.6V420.6M1605.2 378.9V400.9M1605.6 363.3V385.3M1606.1 386.3V408.3M1606.5 371.1V393.1M1606.9 382.5V404.5M1607.4 396.3V418.3M1607.8 395.5V417.5M1608.3 412.7V434.7M1608.7 388.6V410.6M1609.1 370.6V392.6M1609.6 381.1V403.1M1610.0 378.9V400.9M1610.5 374.9V396.9M1610.9 397.2V419.2M1611.3 382.6V404.6M1611.8 364.6V386.6M1612.2 400.7V422.7M1612.7 389.8V411.8M1613.1 396.1V418.1M1613.5 392.7V414.7M1614.0 399.8V421.8M1614.4 391.8V413.8M1614.8 408.0V430.0M1615.3 397.0V419.0M1615.7 396.6V418.6M1616.2 396.8V418.8M1616.6 371.6V393.6M1617.0 389.1V411.1M1617.5 387.8V409.8M1617.9 394.1V416.1M1618.4 373.0V395.0M1618.8 413.4V435.4M1619.2 392.7V414.7M1619.7 374.9V396.9M1620.1 368.2V390.2M1620.6 387.5V409.5M1621.0 390.1V412.1M1621.4 381.6V403.6M1621.9 392.5V414.5M1622.3 382.6V404.6M1622.7 398.7V420.7M1623.2 381.5V403.5M1623.6 390.8V412.8M1624.1 404.5V426.5M1624.5 420.3V442.3M1624.9 377.7V399.7M1625.4 385.0V407.0M1625.8 380.0V402.0M1626.3 401.9V423.9M1626.7 375.8V397.8M1627.1 384.8V406.8M1627.6 390.9V412.9M1628.0 378.1V400.1M1628.5 378.4V400.4M1628.9 384.9V406.9M1629.3 362.9V384.9M1629.8 371.8V393.8M1630.2 385.7V407.7M1630.6 393.3V415.3M1631.1 388.8V410.8M1631.5 367.4V389.4M1632.0 385.0V407.0M1632.4 402.1V424.1M1632.8 398.8V420.8M1633.3 390.2V412.2M1633.7 379.3V401.3M1634.2 399.8V421.8M1634.6 383.5V405.5M1635.0 375.5V397.5M1635.5 380.5V402.5M1635.9 410.9V432.9M1636.3 394.3V416.3M1661.7 374.1V396.1M1635.7 382.3V404.3M1628.7 368.4V390.4M1662.9 387.9V409.9M1651.2 363.8V385.8M1639.8 361.8V383.8M1636.2 361.8V383.8M1632.9 380.0V402.0M1632.0 365.7V387.7M1660.9 371.1V393.1M1640.3 363.6V385.6M1657.0 381.3V403.3M1648.0 379.5V401.5M1632.0 368.8V390.8M1649.4 389.6V411.6M1657.8 380.2V402.2M1647.0 361.5V383.5M1660.4 363.0V385.0M1633.0 381.8V403.8M1657.6 384.6V406.6M1644.6 366.3V388.3M1629.6 386.5V408.5M1663.5 368.3V390.3M1659.5 373.1V395.1M1639.6 376.2V398.2M1628.6 374.3V396.3M1635.5 382.4V404.4M1646.4 387.1V409.1M1660.6 370.5V392.5M1638.4 389.2V411.2M1646.5 363.9V385.9M1630.0 390.7V412.7M1649.2 362.6V384.6M1646.8 376.1V398.1M1644.0 389.5V411.5M1662.5 364.7V386.7M1633.8 373.2V395.2M1658.4 379.7V401.7M1654.6 378.3V400.3M1635.9 385.5V407.5M1548.0 360.2V382.2M1618.0 361.5V383.5M1577.5 424.0V446.0M1612.5 425.2V447.2M1646.8 354.0V376.0M1653.0 364.0V386.0M1658.0 369.0V391.0M1650.5 376.5V398.5M1656.8 381.5V403.5M1663.0 367.8V389.8M1666.8 385.2V407.2M1668.0 396.5V418.5M1670.0 409.0V431.0M1673.0 420.2V442.2M1676.8 430.2V452.2M1674.8 449.0V471.0M1680.5 407.8V429.8M1683.0 396.5V418.5M1689.2 386.5V408.5M1692.2 367.0V389.0M1694.2 401.5V423.5M1699.2 403.7V426.3M1704.2 408.5V431.5M1700.5 430.2V452.8M1706.0 430.9V454.1M1709.2 393.2V416.8M1713.2 393.5V417.5M1710.8 434.4V458.1M1717.0 414.1V438.4M1720.8 410.1V434.9M1723.2 433.7V458.8M1727.0 424.8V450.2M1730.8 447.1V472.9M1734.5 436.9V463.1M1740.8 439.0V466.0M1747.0 434.9V462.6M1743.2 452.6V479.9M1748.2 456.1V483.9M1754.0 457.0V485.5M1760.0 422.3V451.7M1763.2 448.1V477.9M1766.5 434.4V464.6M1769.5 412.2V442.8M1774.5 410.7V441.8M1779.5 417.8V449.7M1783.2 403.8V436.2M1786.5 433.6V466.4M1789.5 374.6V407.9M1795.8 380.4V414.6M1799.5 397.6V432.4M1803.2 394.8V430.2M1806.5 352.1V387.9M1809.5 365.6V401.9M1813.2 396.6V433.4M1815.8 356.4V393.6M1819.5 364.8V402.7M1822.0 344.6V382.9M1825.8 333.0V372.0M1828.2 321.6V360.9M1833.2 337.4V377.6M1835.8 313.4V354.1M1839.5 310.6V351.9M1843.2 302.8V344.7M1839.5 354.9V396.1M1846.5 323.7V366.3M1849.5 350.9V394.1M1853.2 376.8V420.7M1856.5 361.5V406.0M1859.5 387.5V432.5M1863.2 384.6V430.4M1866.5 334.3V380.7M1869.5 376.5V423.5M1756.1 470.5V499.3M1724.7 432.8V458.0M1892.0 470.1V521.9M1952.5 144.4V211.6M1942.5 157.1V221.4M1965.8 154.4V225.6M1939.5 185.7V249.3M1945.5 193.7V258.8M1955.8 180.9V249.1M1962.5 188.7V258.8M1968.8 206.0V278.0M1949.2 227.6V293.9M1978.8 225.4V300.6M1985.8 230.0V307.5M1932.5 258.4V320.1M1935.8 276.2V338.8M1972.5 263.9V337.1M1959.2 290.9V360.1M1870.0 377.7V424.8M1875.0 375.9V424.1M1873.8 389.8V437.7M1880.0 390.4V439.6M1886.2 368.5V419.0M1883.0 418.1V467.9M1889.5 428.6V479.9M1896.2 360.6V413.4M1899.5 419.5V473.0M1903.8 414.0V468.5M1908.8 409.7V465.3M1913.8 407.8V464.7M1906.2 375.0V430.0M1916.2 366.3V423.7M1920.0 362.8V421.2M1922.5 329.2V388.3M1928.8 320.9V381.6M1926.2 309.5V369.5M1975.8 294.1V368.4M1982.5 343.0V419.5M1988.8 355.7V434.3M1992.5 317.6V397.4M1995.8 339.5V420.5M2000.0 422.5V505.0M2006.2 395.1V479.9M2010.0 380.7V466.8M2015.0 387.3V475.2M2012.5 421.5V508.5M2025.8 353.4V445.6M2032.3 312.1V406.9M2033.8 388.6V483.9M2036.5 331.7V428.3M2085.3 121.8V241.0M2115.5 96.5V232.1M2072.0 205.4V317.8M2078.5 207.9V323.5M2105.1 199.2V329.0M2138.4 136.0V285.8M2135.3 156.8V304.6M2132.4 184.5V330.5M2152.2 165.2V324.2M2162.3 197.2V363.2M2166.7 204.8V374.0M2082.0 238.6V356.0M2091.8 240.3V362.7M2155.5 221.8V383.0M2042.3 346.8V445.8M2055.6 355.2V460.0M2058.0 275.3V381.1M2065.7 271.5V380.9M2068.8 346.8V457.8M2075.4 297.6V411.8M2098.6 253.0V379.2M2088.2 294.4V415.0M2095.4 302.7V427.1M2108.7 298.0V429.8M2102.2 370.9V499.1M2118.4 280.5V417.9M2122.0 263.2V402.8M2125.1 270.0V411.4M2128.5 289.6V433.0M2142.5 314.0V466.4M2145.7 255.0V409.6M2148.6 291.5V447.9M2158.9 343.9V507.5M2165.0 257.9V425.9M2008.5 380.1V465.7M2051.9 393.7V496.9M2062.3 390.2V498.0M2049.5 406.9V508.9M2001.2 339.2V422.0M2045.6 482.0V582.4M2002.4 450.1V533.5M2022.0 435.0V525.6M2018.1 443.4V532.6M2028.8 448.9V542.3M2112.2 405.8V539.6" stroke="#D81B60" stroke-width="2.1" fill="none"/>
<g fill="#D81B60"><circle cx="1535.8" cy="414.5" r="6"/><circle cx="1536.3" cy="428.7" r="6"/><circle cx="1536.7" cy="400.1" r="6"/><circle cx="1537.2" cy="401.6" r="6"/><circle cx="1537.6" cy="405.0" r="6"/><circle cx="1538.0" cy="420.4" r="6"/><circle cx="1538.5" cy="401.9" r="6"/><circle cx="1538.9" cy="422.1" r="6"/><circle cx="1539.4" cy="389.3" r="6"/><circle cx="1539.8" cy="399.8" r="6"/><circle cx="1540.2" cy="399.6" r="6"/><circle cx="1540.7" cy="412.9" r="6"/><circle cx="1541.1" cy="416.4" r="6"/><circle cx="1541.6" cy="381.9" r="6"/><circle cx="1542.0" cy="389.9" r="6"/><circle cx="1542.4" cy="406.8" r="6"/><circle cx="1542.9" cy="393.4" r="6"/><circle cx="1543.3" cy="381.7" r="6"/><circle cx="1543.7" cy="416.3" r="6"/><circle cx="1544.2" cy="409.0" r="6"/><circle cx="1544.6" cy="409.0" r="6"/><circle cx="1545.1" cy="395.9" r="6"/><circle cx="1545.5" cy="416.2" r="6"/><circle cx="1545.9" cy="399.1" r="6"/><circle cx="1546.4" cy="417.1" r="6"/><circle cx="1546.8" cy="390.0" r="6"/><circle cx="1547.3" cy="390.8" r="6"/><circle cx="1547.7" cy="405.1" r="6"/><circle cx="1548.1" cy="392.8" r="6"/><circle cx="1548.6" cy="411.4" r="6"/><circle cx="1549.0" cy="405.8" r="6"/><circle cx="1549.5" cy="389.8" r="6"/><circle cx="1549.9" cy="403.3" r="6"/><circle cx="1550.3" cy="397.6" r="6"/><circle cx="1550.8" cy="414.7" r="6"/><circle cx="1551.2" cy="393.8" r="6"/><circle cx="1551.6" cy="396.4" r="6"/><circle cx="1552.1" cy="418.7" r="6"/><circle cx="1552.5" cy="431.3" r="6"/><circle cx="1553.0" cy="429.3" r="6"/><circle cx="1553.4" cy="403.2" r="6"/><circle cx="1553.8" cy="405.3" r="6"/><circle cx="1554.3" cy="423.0" r="6"/><circle cx="1554.7" cy="400.6" r="6"/><circle cx="1555.2" cy="389.1" r="6"/><circle cx="1555.6" cy="403.9" r="6"/><circle cx="1556.0" cy="408.4" r="6"/><circle cx="1556.5" cy="391.1" r="6"/><circle cx="1556.9" cy="380.1" r="6"/><circle cx="1557.4" cy="382.9" r="6"/><circle cx="1557.8" cy="411.3" r="6"/><circle cx="1558.2" cy="392.1" r="6"/><circle cx="1558.7" cy="400.4" r="6"/><circle cx="1559.1" cy="405.2" r="6"/><circle cx="1559.5" cy="410.7" r="6"/><circle cx="1560.0" cy="397.8" r="6"/><circle cx="1560.4" cy="409.0" r="6"/><circle cx="1560.9" cy="390.3" r="6"/><circle cx="1561.3" cy="397.4" r="6"/><circle cx="1561.7" cy="388.5" r="6"/><circle cx="1562.2" cy="417.6" r="6"/><circle cx="1562.6" cy="401.9" r="6"/><circle cx="1563.1" cy="392.3" r="6"/><circle cx="1563.5" cy="397.5" r="6"/><circle cx="1563.9" cy="399.3" r="6"/><circle cx="1564.4" cy="411.8" r="6"/><circle cx="1564.8" cy="380.8" r="6"/><circle cx="1565.3" cy="388.3" r="6"/><circle cx="1565.7" cy="397.2" r="6"/><circle cx="1566.1" cy="431.3" r="6"/><circle cx="1566.6" cy="415.2" r="6"/><circle cx="1567.0" cy="400.8" r="6"/><circle cx="1567.4" cy="411.9" r="6"/><circle cx="1567.9" cy="430.1" r="6"/><circle cx="1568.3" cy="399.1" r="6"/><circle cx="1568.8" cy="397.4" r="6"/><circle cx="1569.2" cy="418.7" r="6"/><circle cx="1569.6" cy="409.0" r="6"/><circle cx="1570.1" cy="411.4" r="6"/><circle cx="1570.5" cy="395.4" r="6"/><circle cx="1571.0" cy="428.3" r="6"/><circle cx="1571.4" cy="425.4" r="6"/><circle cx="1571.8" cy="409.9" r="6"/><circle cx="1572.3" cy="411.5" r="6"/><circle cx="1572.7" cy="374.9" r="6"/><circle cx="1573.2" cy="410.9" r="6"/><circle cx="1573.6" cy="399.7" r="6"/><circle cx="1574.0" cy="408.2" r="6"/><circle cx="1574.5" cy="411.5" r="6"/><circle cx="1574.9" cy="397.7" r="6"/><circle cx="1575.3" cy="379.5" r="6"/><circle cx="1575.8" cy="407.3" r="6"/><circle cx="1576.2" cy="392.3" r="6"/><circle cx="1576.7" cy="397.8" r="6"/><circle cx="1577.1" cy="394.1" r="6"/><circle cx="1577.5" cy="397.7" r="6"/><circle cx="1578.0" cy="373.3" r="6"/><circle cx="1578.4" cy="418.7" r="6"/><circle cx="1578.9" cy="405.7" r="6"/><circle cx="1579.3" cy="417.3" r="6"/><circle cx="1579.7" cy="429.0" r="6"/><circle cx="1580.2" cy="402.6" r="6"/><circle cx="1580.6" cy="378.0" r="6"/><circle cx="1581.1" cy="390.2" r="6"/><circle cx="1581.5" cy="386.0" r="6"/><circle cx="1581.9" cy="395.5" r="6"/><circle cx="1582.4" cy="403.4" r="6"/><circle cx="1582.8" cy="375.3" r="6"/><circle cx="1583.2" cy="406.9" r="6"/><circle cx="1583.7" cy="381.9" r="6"/><circle cx="1584.1" cy="406.3" r="6"/><circle cx="1584.6" cy="400.8" r="6"/><circle cx="1585.0" cy="398.1" r="6"/><circle cx="1585.4" cy="401.3" r="6"/><circle cx="1585.9" cy="395.0" r="6"/><circle cx="1586.3" cy="394.0" r="6"/><circle cx="1586.8" cy="379.6" r="6"/><circle cx="1587.2" cy="401.9" r="6"/><circle cx="1587.6" cy="427.2" r="6"/><circle cx="1588.1" cy="429.0" r="6"/><circle cx="1588.5" cy="420.1" r="6"/><circle cx="1589.0" cy="411.8" r="6"/><circle cx="1589.4" cy="393.2" r="6"/><circle cx="1589.8" cy="421.8" r="6"/><circle cx="1590.3" cy="401.5" r="6"/><circle cx="1590.7" cy="401.4" r="6"/><circle cx="1591.1" cy="398.4" r="6"/><circle cx="1591.6" cy="403.5" r="6"/><circle cx="1592.0" cy="396.4" r="6"/><circle cx="1592.5" cy="401.2" r="6"/><circle cx="1592.9" cy="387.7" r="6"/><circle cx="1593.3" cy="397.3" r="6"/><circle cx="1593.8" cy="431.3" r="6"/><circle cx="1594.2" cy="401.4" r="6"/><circle cx="1594.7" cy="399.1" r="6"/><circle cx="1595.1" cy="409.5" r="6"/><circle cx="1595.5" cy="411.9" r="6"/><circle cx="1596.0" cy="387.3" r="6"/><circle cx="1596.4" cy="399.5" r="6"/><circle cx="1596.9" cy="414.7" r="6"/><circle cx="1597.3" cy="405.9" r="6"/><circle cx="1597.7" cy="403.9" r="6"/><circle cx="1598.2" cy="423.3" r="6"/><circle cx="1598.6" cy="393.2" r="6"/><circle cx="1599.0" cy="403.4" r="6"/><circle cx="1599.5" cy="395.3" r="6"/><circle cx="1599.9" cy="422.4" r="6"/><circle cx="1600.4" cy="375.9" r="6"/><circle cx="1600.8" cy="393.3" r="6"/><circle cx="1601.2" cy="395.2" r="6"/><circle cx="1601.7" cy="411.3" r="6"/><circle cx="1602.1" cy="410.5" r="6"/><circle cx="1602.6" cy="421.1" r="6"/><circle cx="1603.0" cy="381.1" r="6"/><circle cx="1603.4" cy="412.4" r="6"/><circle cx="1603.9" cy="398.3" r="6"/><circle cx="1604.3" cy="393.3" r="6"/><circle cx="1604.8" cy="409.6" r="6"/><circle cx="1605.2" cy="389.9" r="6"/><circle cx="1605.6" cy="374.3" r="6"/><circle cx="1606.1" cy="397.3" r="6"/><circle cx="1606.5" cy="382.1" r="6"/><circle cx="1606.9" cy="393.5" r="6"/><circle cx="1607.4" cy="407.3" r="6"/><circle cx="1607.8" cy="406.5" r="6"/><circle cx="1608.3" cy="423.7" r="6"/><circle cx="1608.7" cy="399.6" r="6"/><circle cx="1609.1" cy="381.6" r="6"/><circle cx="1609.6" cy="392.1" r="6"/><circle cx="1610.0" cy="389.9" r="6"/><circle cx="1610.5" cy="385.9" r="6"/><circle cx="1610.9" cy="408.2" r="6"/><circle cx="1611.3" cy="393.6" r="6"/><circle cx="1611.8" cy="375.6" r="6"/><circle cx="1612.2" cy="411.7" r="6"/><circle cx="1612.7" cy="400.8" r="6"/><circle cx="1613.1" cy="407.1" r="6"/><circle cx="1613.5" cy="403.7" r="6"/><circle cx="1614.0" cy="410.8" r="6"/><circle cx="1614.4" cy="402.8" r="6"/><circle cx="1614.8" cy="419.0" r="6"/><circle cx="1615.3" cy="408.0" r="6"/><circle cx="1615.7" cy="407.6" r="6"/><circle cx="1616.2" cy="407.8" r="6"/><circle cx="1616.6" cy="382.6" r="6"/><circle cx="1617.0" cy="400.1" r="6"/><circle cx="1617.5" cy="398.8" r="6"/><circle cx="1617.9" cy="405.1" r="6"/><circle cx="1618.4" cy="384.0" r="6"/><circle cx="1618.8" cy="424.4" r="6"/><circle cx="1619.2" cy="403.7" r="6"/><circle cx="1619.7" cy="385.9" r="6"/><circle cx="1620.1" cy="379.2" r="6"/><circle cx="1620.6" cy="398.5" r="6"/><circle cx="1621.0" cy="401.1" r="6"/><circle cx="1621.4" cy="392.6" r="6"/><circle cx="1621.9" cy="403.5" r="6"/><circle cx="1622.3" cy="393.6" r="6"/><circle cx="1622.7" cy="409.7" r="6"/><circle cx="1623.2" cy="392.5" r="6"/><circle cx="1623.6" cy="401.8" r="6"/><circle cx="1624.1" cy="415.5" r="6"/><circle cx="1624.5" cy="431.3" r="6"/><circle cx="1624.9" cy="388.7" r="6"/><circle cx="1625.4" cy="396.0" r="6"/><circle cx="1625.8" cy="391.0" r="6"/><circle cx="1626.3" cy="412.9" r="6"/><circle cx="1626.7" cy="386.8" r="6"/><circle cx="1627.1" cy="395.8" r="6"/><circle cx="1627.6" cy="401.9" r="6"/><circle cx="1628.0" cy="389.1" r="6"/><circle cx="1628.5" cy="389.4" r="6"/><circle cx="1628.9" cy="395.9" r="6"/><circle cx="1629.3" cy="373.9" r="6"/><circle cx="1629.8" cy="382.8" r="6"/><circle cx="1630.2" cy="396.7" r="6"/><circle cx="1630.6" cy="404.3" r="6"/><circle cx="1631.1" cy="399.8" r="6"/><circle cx="1631.5" cy="378.4" r="6"/><circle cx="1632.0" cy="396.0" r="6"/><circle cx="1632.4" cy="413.1" r="6"/><circle cx="1632.8" cy="409.8" r="6"/><circle cx="1633.3" cy="401.2" r="6"/><circle cx="1633.7" cy="390.3" r="6"/><circle cx="1634.2" cy="410.8" r="6"/><circle cx="1634.6" cy="394.5" r="6"/><circle cx="1635.0" cy="386.5" r="6"/><circle cx="1635.5" cy="391.5" r="6"/><circle cx="1635.9" cy="421.9" r="6"/><circle cx="1636.3" cy="405.3" r="6"/><circle cx="1661.7" cy="385.1" r="6"/><circle cx="1635.7" cy="393.3" r="6"/><circle cx="1628.7" cy="379.4" r="6"/><circle cx="1662.9" cy="398.9" r="6"/><circle cx="1651.2" cy="374.8" r="6"/><circle cx="1639.8" cy="372.8" r="6"/><circle cx="1636.2" cy="372.8" r="6"/><circle cx="1632.9" cy="391.0" r="6"/><circle cx="1632.0" cy="376.7" r="6"/><circle cx="1660.9" cy="382.1" r="6"/><circle cx="1640.3" cy="374.6" r="6"/><circle cx="1657.0" cy="392.3" r="6"/><circle cx="1648.0" cy="390.5" r="6"/><circle cx="1632.0" cy="379.8" r="6"/><circle cx="1649.4" cy="400.6" r="6"/><circle cx="1657.8" cy="391.2" r="6"/><circle cx="1647.0" cy="372.5" r="6"/><circle cx="1660.4" cy="374.0" r="6"/><circle cx="1633.0" cy="392.8" r="6"/><circle cx="1657.6" cy="395.6" r="6"/><circle cx="1644.6" cy="377.3" r="6"/><circle cx="1629.6" cy="397.5" r="6"/><circle cx="1663.5" cy="379.3" r="6"/><circle cx="1659.5" cy="384.1" r="6"/><circle cx="1639.6" cy="387.2" r="6"/><circle cx="1628.6" cy="385.3" r="6"/><circle cx="1635.5" cy="393.4" r="6"/><circle cx="1646.4" cy="398.1" r="6"/><circle cx="1660.6" cy="381.5" r="6"/><circle cx="1638.4" cy="400.2" r="6"/><circle cx="1646.5" cy="374.9" r="6"/><circle cx="1630.0" cy="401.7" r="6"/><circle cx="1649.2" cy="373.6" r="6"/><circle cx="1646.8" cy="387.1" r="6"/><circle cx="1644.0" cy="400.5" r="6"/><circle cx="1662.5" cy="375.7" r="6"/><circle cx="1633.8" cy="384.2" r="6"/><circle cx="1658.4" cy="390.7" r="6"/><circle cx="1654.6" cy="389.3" r="6"/><circle cx="1635.9" cy="396.5" r="6"/><circle cx="1548.0" cy="371.2" r="6"/><circle cx="1618.0" cy="372.5" r="6"/><circle cx="1577.5" cy="435.0" r="6"/><circle cx="1612.5" cy="436.2" r="6"/><circle cx="1646.8" cy="365.0" r="6"/><circle cx="1653.0" cy="375.0" r="6"/><circle cx="1658.0" cy="380.0" r="6"/><circle cx="1650.5" cy="387.5" r="6"/><circle cx="1656.8" cy="392.5" r="6"/><circle cx="1663.0" cy="378.8" r="6"/><circle cx="1666.8" cy="396.2" r="6"/><circle cx="1668.0" cy="407.5" r="6"/><circle cx="1670.0" cy="420.0" r="6"/><circle cx="1673.0" cy="431.2" r="6"/><circle cx="1676.8" cy="441.2" r="6"/><circle cx="1674.8" cy="460.0" r="6"/><circle cx="1680.5" cy="418.8" r="6"/><circle cx="1683.0" cy="407.5" r="6"/><circle cx="1689.2" cy="397.5" r="6"/><circle cx="1692.2" cy="378.0" r="6"/><circle cx="1694.2" cy="412.5" r="6"/><circle cx="1699.2" cy="415.0" r="6"/><circle cx="1704.2" cy="420.0" r="6"/><circle cx="1700.5" cy="441.5" r="6"/><circle cx="1706.0" cy="442.5" r="6"/><circle cx="1709.2" cy="405.0" r="6"/><circle cx="1713.2" cy="405.5" r="6"/><circle cx="1710.8" cy="446.2" r="6"/><circle cx="1717.0" cy="426.2" r="6"/><circle cx="1720.8" cy="422.5" r="6"/><circle cx="1723.2" cy="446.2" r="6"/><circle cx="1727.0" cy="437.5" r="6"/><circle cx="1730.8" cy="460.0" r="6"/><circle cx="1734.5" cy="450.0" r="6"/><circle cx="1740.8" cy="452.5" r="6"/><circle cx="1747.0" cy="448.8" r="6"/><circle cx="1743.2" cy="466.2" r="6"/><circle cx="1748.2" cy="470.0" r="6"/><circle cx="1754.0" cy="471.2" r="6"/><circle cx="1760.0" cy="437.0" r="6"/><circle cx="1763.2" cy="463.0" r="6"/><circle cx="1766.5" cy="449.5" r="6"/><circle cx="1769.5" cy="427.5" r="6"/><circle cx="1774.5" cy="426.2" r="6"/><circle cx="1779.5" cy="433.8" r="6"/><circle cx="1783.2" cy="420.0" r="6"/><circle cx="1786.5" cy="450.0" r="6"/><circle cx="1789.5" cy="391.2" r="6"/><circle cx="1795.8" cy="397.5" r="6"/><circle cx="1799.5" cy="415.0" r="6"/><circle cx="1803.2" cy="412.5" r="6"/><circle cx="1806.5" cy="370.0" r="6"/><circle cx="1809.5" cy="383.8" r="6"/><circle cx="1813.2" cy="415.0" r="6"/><circle cx="1815.8" cy="375.0" r="6"/><circle cx="1819.5" cy="383.8" r="6"/><circle cx="1822.0" cy="363.8" r="6"/><circle cx="1825.8" cy="352.5" r="6"/><circle cx="1828.2" cy="341.2" r="6"/><circle cx="1833.2" cy="357.5" r="6"/><circle cx="1835.8" cy="333.8" r="6"/><circle cx="1839.5" cy="331.2" r="6"/><circle cx="1843.2" cy="323.8" r="6"/><circle cx="1839.5" cy="375.5" r="6"/><circle cx="1846.5" cy="345.0" r="6"/><circle cx="1849.5" cy="372.5" r="6"/><circle cx="1853.2" cy="398.8" r="6"/><circle cx="1856.5" cy="383.8" r="6"/><circle cx="1859.5" cy="410.0" r="6"/><circle cx="1863.2" cy="407.5" r="6"/><circle cx="1866.5" cy="357.5" r="6"/><circle cx="1869.5" cy="400.0" r="6"/><circle cx="1756.1" cy="484.9" r="6"/><circle cx="1724.7" cy="445.4" r="6"/><circle cx="1892.0" cy="496.0" r="6"/><circle cx="1952.5" cy="178.0" r="6"/><circle cx="1942.5" cy="189.2" r="6"/><circle cx="1965.8" cy="190.0" r="6"/><circle cx="1939.5" cy="217.5" r="6"/><circle cx="1945.5" cy="226.2" r="6"/><circle cx="1955.8" cy="215.0" r="6"/><circle cx="1962.5" cy="223.8" r="6"/><circle cx="1968.8" cy="242.0" r="6"/><circle cx="1949.2" cy="260.8" r="6"/><circle cx="1978.8" cy="263.0" r="6"/><circle cx="1985.8" cy="268.8" r="6"/><circle cx="1932.5" cy="289.2" r="6"/><circle cx="1935.8" cy="307.5" r="6"/><circle cx="1972.5" cy="300.5" r="6"/><circle cx="1959.2" cy="325.5" r="6"/><circle cx="1870.0" cy="401.2" r="6"/><circle cx="1875.0" cy="400.0" r="6"/><circle cx="1873.8" cy="413.8" r="6"/><circle cx="1880.0" cy="415.0" r="6"/><circle cx="1886.2" cy="393.8" r="6"/><circle cx="1883.0" cy="443.0" r="6"/><circle cx="1889.5" cy="454.2" r="6"/><circle cx="1896.2" cy="387.0" r="6"/><circle cx="1899.5" cy="446.2" r="6"/><circle cx="1903.8" cy="441.2" r="6"/><circle cx="1908.8" cy="437.5" r="6"/><circle cx="1913.8" cy="436.2" r="6"/><circle cx="1906.2" cy="402.5" r="6"/><circle cx="1916.2" cy="395.0" r="6"/><circle cx="1920.0" cy="392.0" r="6"/><circle cx="1922.5" cy="358.8" r="6"/><circle cx="1928.8" cy="351.2" r="6"/><circle cx="1926.2" cy="339.5" r="6"/><circle cx="1975.8" cy="331.2" r="6"/><circle cx="1982.5" cy="381.2" r="6"/><circle cx="1988.8" cy="395.0" r="6"/><circle cx="1992.5" cy="357.5" r="6"/><circle cx="1995.8" cy="380.0" r="6"/><circle cx="2000.0" cy="463.8" r="6"/><circle cx="2006.2" cy="437.5" r="6"/><circle cx="2010.0" cy="423.8" r="6"/><circle cx="2015.0" cy="431.2" r="6"/><circle cx="2012.5" cy="465.0" r="6"/><circle cx="2025.8" cy="399.5" r="6"/><circle cx="2032.3" cy="359.5" r="6"/><circle cx="2033.8" cy="436.2" r="6"/><circle cx="2036.5" cy="380.0" r="6"/><circle cx="2085.3" cy="181.4" r="6"/><circle cx="2115.5" cy="164.3" r="6"/><circle cx="2072.0" cy="261.6" r="6"/><circle cx="2078.5" cy="265.7" r="6"/><circle cx="2105.1" cy="264.1" r="6"/><circle cx="2138.4" cy="210.9" r="6"/><circle cx="2135.3" cy="230.7" r="6"/><circle cx="2132.4" cy="257.5" r="6"/><circle cx="2152.2" cy="244.7" r="6"/><circle cx="2162.3" cy="280.2" r="6"/><circle cx="2166.7" cy="289.4" r="6"/><circle cx="2082.0" cy="297.3" r="6"/><circle cx="2091.8" cy="301.5" r="6"/><circle cx="2155.5" cy="302.4" r="6"/><circle cx="2042.3" cy="396.3" r="6"/><circle cx="2055.6" cy="407.6" r="6"/><circle cx="2058.0" cy="328.2" r="6"/><circle cx="2065.7" cy="326.2" r="6"/><circle cx="2068.8" cy="402.3" r="6"/><circle cx="2075.4" cy="354.7" r="6"/><circle cx="2098.6" cy="316.1" r="6"/><circle cx="2088.2" cy="354.7" r="6"/><circle cx="2095.4" cy="364.9" r="6"/><circle cx="2108.7" cy="363.9" r="6"/><circle cx="2102.2" cy="435.0" r="6"/><circle cx="2118.4" cy="349.2" r="6"/><circle cx="2122.0" cy="333.0" r="6"/><circle cx="2125.1" cy="340.7" r="6"/><circle cx="2128.5" cy="361.3" r="6"/><circle cx="2142.5" cy="390.2" r="6"/><circle cx="2145.7" cy="332.3" r="6"/><circle cx="2148.6" cy="369.7" r="6"/><circle cx="2158.9" cy="425.7" r="6"/><circle cx="2165.0" cy="341.9" r="6"/><circle cx="2008.5" cy="422.9" r="6"/><circle cx="2051.9" cy="445.3" r="6"/><circle cx="2062.3" cy="444.1" r="6"/><circle cx="2049.5" cy="457.9" r="6"/><circle cx="2001.2" cy="380.6" r="6"/><circle cx="2045.6" cy="532.2" r="6"/><circle cx="2002.4" cy="491.8" r="6"/><circle cx="2022.0" cy="480.3" r="6"/><circle cx="2018.1" cy="488.0" r="6"/><circle cx="2028.8" cy="495.6" r="6"/><circle cx="2112.2" cy="472.7" r="6"/></g>
</g>
<rect x="1535.35" y="45.10" width="634.70" height="579.40" fill="none" stroke="#000" stroke-width="2.2"/>
<path d="M1671.36 624.5v-7.2M1671.36 45.1v7.2M1852.70 624.5v-7.2M1852.70 45.1v7.2M2034.04 624.5v-7.2M2034.04 45.1v7.2M1535.3 550.43h7.2M2170.1 550.43h-7.2M1535.3 476.36h7.2M2170.1 476.36h-7.2M1535.3 402.29h7.2M2170.1 402.29h-7.2M1535.3 328.22h7.2M2170.1 328.22h-7.2M1535.3 254.15h7.2M2170.1 254.15h-7.2M1535.3 180.08h7.2M2170.1 180.08h-7.2M1535.3 106.01h7.2M2170.1 106.01h-7.2" stroke="#000" stroke-width="2" fill="none"/>
<path d="M1580.69 624.5v-4.8M1580.69 45.1v4.8M1626.02 624.5v-4.8M1626.02 45.1v4.8M1716.69 624.5v-4.8M1716.69 45.1v4.8M1762.03 624.5v-4.8M1762.03 45.1v4.8M1807.36 624.5v-4.8M1807.36 45.1v4.8M1898.04 624.5v-4.8M1898.04 45.1v4.8M1943.37 624.5v-4.8M1943.37 45.1v4.8M1988.71 624.5v-4.8M1988.71 45.1v4.8M2079.38 624.5v-4.8M2079.38 45.1v4.8M2124.71 624.5v-4.8M2124.71 45.1v4.8M1535.3 605.98h4.8M2170.1 605.98h-4.8M1535.3 587.47h4.8M2170.1 587.47h-4.8M1535.3 568.95h4.8M2170.1 568.95h-4.8M1535.3 531.91h4.8M2170.1 531.91h-4.8M1535.3 513.39h4.8M2170.1 513.39h-4.8M1535.3 494.88h4.8M2170.1 494.88h-4.8M1535.3 457.84h4.8M2170.1 457.84h-4.8M1535.3 439.33h4.8M2170.1 439.33h-4.8M1535.3 420.81h4.8M2170.1 420.81h-4.8M1535.3 383.77h4.8M2170.1 383.77h-4.8M1535.3 365.25h4.8M2170.1 365.25h-4.8M1535.3 346.74h4.8M2170.1 346.74h-4.8M1535.3 309.70h4.8M2170.1 309.70h-4.8M1535.3 291.19h4.8M2170.1 291.19h-4.8M1535.3 272.67h4.8M2170.1 272.67h-4.8M1535.3 235.63h4.8M2170.1 235.63h-4.8M1535.3 217.12h4.8M2170.1 217.12h-4.8M1535.3 198.60h4.8M2170.1 198.60h-4.8M1535.3 161.56h4.8M2170.1 161.56h-4.8M1535.3 143.05h4.8M2170.1 143.05h-4.8M1535.3 124.53h4.8M2170.1 124.53h-4.8M1535.3 87.49h4.8M2170.1 87.49h-4.8M1535.3 68.98h4.8M2170.1 68.98h-4.8M1535.3 50.46h4.8M2170.1 50.46h-4.8" stroke="#000" stroke-width="1.4" fill="none"/>
<g font-family="'Liberation Serif', 'DejaVu Serif', serif" fill="#363636">
<text x="116.3" y="635.7" font-size="32.5" text-anchor="end" textLength="68.0" lengthAdjust="spacingAndGlyphs">0.925</text>
<text x="116.3" y="561.6" font-size="32.5" text-anchor="end" textLength="68.0" lengthAdjust="spacingAndGlyphs">0.950</text>
<text x="116.3" y="487.6" font-size="32.5" text-anchor="end" textLength="68.0" lengthAdjust="spacingAndGlyphs">0.975</text>
<text x="116.3" y="413.5" font-size="32.5" text-anchor="end" textLength="67.0" lengthAdjust="spacingAndGlyphs">1.000</text>
<text x="116.3" y="339.4" font-size="32.5" text-anchor="end" textLength="67.0" lengthAdjust="spacingAndGlyphs">1.025</text>
<text x="116.3" y="265.4" font-size="32.5" text-anchor="end" textLength="67.0" lengthAdjust="spacingAndGlyphs">1.050</text>
<text x="116.3" y="191.3" font-size="32.5" text-anchor="end" textLength="67.0" lengthAdjust="spacingAndGlyphs">1.075</text>
<text x="116.3" y="117.2" font-size="32.5" text-anchor="end" textLength="67.0" lengthAdjust="spacingAndGlyphs">1.100</text>
<text x="257.3" y="652.6" font-size="32.5" text-anchor="middle">2</text>
<text x="438.7" y="652.6" font-size="32.5" text-anchor="middle">4</text>
<text x="620.0" y="652.6" font-size="32.5" text-anchor="middle">6</text>
<text x="438.0" y="697.4" font-size="44.6" text-anchor="middle" textLength="397.0" lengthAdjust="spacingAndGlyphs">Observed Energy [keV]</text>
<text x="964.5" y="652.6" font-size="32.5" text-anchor="middle">2</text>
<text x="1145.8" y="652.6" font-size="32.5" text-anchor="middle">4</text>
<text x="1327.1" y="652.6" font-size="32.5" text-anchor="middle">6</text>
<text x="1145.1" y="697.4" font-size="44.6" text-anchor="middle" textLength="397.0" lengthAdjust="spacingAndGlyphs">Observed Energy [keV]</text>
<text x="1671.6" y="652.6" font-size="32.5" text-anchor="middle">2</text>
<text x="1852.9" y="652.6" font-size="32.5" text-anchor="middle">4</text>
<text x="2034.2" y="652.6" font-size="32.5" text-anchor="middle">6</text>
<text x="1852.2" y="697.4" font-size="44.6" text-anchor="middle" textLength="397.0" lengthAdjust="spacingAndGlyphs">Observed Energy [keV]</text>
<text transform="translate(33.4,335.2) rotate(-90)" font-size="44.6" text-anchor="middle" textLength="214" lengthAdjust="spacingAndGlyphs">Data/Model</text>
<text x="438.9" y="34.8" font-size="41.5" text-anchor="middle" textLength="516.0" lengthAdjust="spacingAndGlyphs">Injected ALP,  Fit without ALPs</text>
<text x="1145.1" y="29.0" font-size="41.5" text-anchor="middle" textLength="620.5" lengthAdjust="spacingAndGlyphs">Injected ALP,  Fit with ALPs (Field <tspan font-style="italic">ϵ</tspan><tspan font-size="29" dy="6">1</tspan><tspan dy="-6">)</tspan></text>
<text x="1852.2" y="29.0" font-size="41.5" text-anchor="middle" textLength="620.5" lengthAdjust="spacingAndGlyphs">Injected ALP,  Fit with ALPs (Field <tspan font-style="italic">ϵ</tspan><tspan font-size="29" dy="6">2</tspan><tspan dy="-6">)</tspan></text>
<text x="247.6" y="102.3" font-size="37" textLength="113.5" lengthAdjust="spacingAndGlyphs"><tspan font-style="italic">C</tspan>/DOF</text>
<text x="368.4" y="102.3" font-size="37" textLength="28" lengthAdjust="spacingAndGlyphs">=</text>
<text x="403.2" y="102.3" font-size="37" textLength="277.2" lengthAdjust="spacingAndGlyphs">28 674/27 964 (1.02)</text>
<text x="954.8" y="102.3" font-size="37" textLength="113.5" lengthAdjust="spacingAndGlyphs"><tspan font-style="italic">C</tspan>/DOF</text>
<text x="1075.5" y="102.3" font-size="37" textLength="28" lengthAdjust="spacingAndGlyphs">=</text>
<text x="1110.3" y="102.3" font-size="37" textLength="277.2" lengthAdjust="spacingAndGlyphs">28 705/27 964 (1.03)</text>
<text x="1661.8" y="102.3" font-size="37" textLength="113.5" lengthAdjust="spacingAndGlyphs"><tspan font-style="italic">C</tspan>/DOF</text>
<text x="1782.7" y="102.3" font-size="37" textLength="28" lengthAdjust="spacingAndGlyphs">=</text>
<text x="1817.5" y="102.3" font-size="37" textLength="277.2" lengthAdjust="spacingAndGlyphs">29 215/27 964 (1.04)</text>
</g>
<g stroke="#D81B60" stroke-width="2.1"><line x1="169.0" x2="204.0" y1="89.9" y2="89.9"/><line x1="186.5" x2="186.5" y1="72.60000000000001" y2="107.2"/></g><circle cx="186.5" cy="89.9" r="6" fill="#D81B60"/>
<g stroke="#D81B60" stroke-width="2.1"><line x1="876.1" x2="911.1" y1="89.9" y2="89.9"/><line x1="893.6" x2="893.6" y1="72.60000000000001" y2="107.2"/></g><circle cx="893.6" cy="89.9" r="6" fill="#D81B60"/>
<g stroke="#D81B60" stroke-width="2.1"><line x1="1583.2" x2="1618.2" y1="89.9" y2="89.9"/><line x1="1600.8" x2="1600.8" y1="72.60000000000001" y2="107.2"/></g><circle cx="1600.8" cy="89.9" r="6" fill="#D81B60"/>
</svg></body></html>
